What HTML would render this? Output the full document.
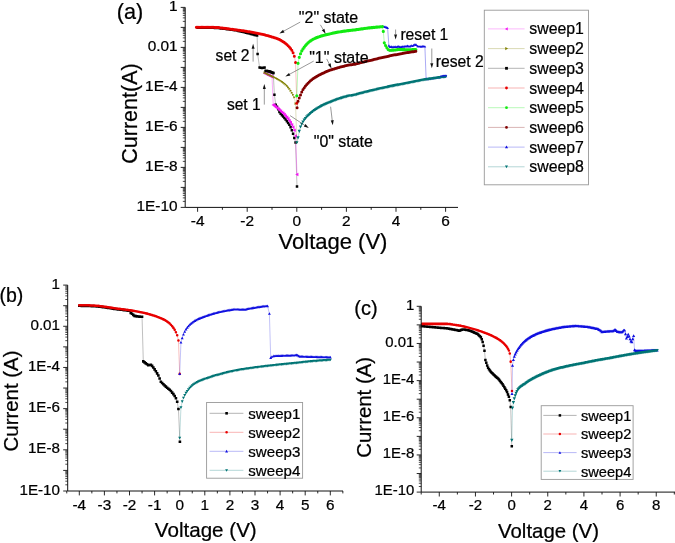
<!DOCTYPE html>
<html><head><meta charset="utf-8"><title>I-V sweeps</title>
<style>html,body{margin:0;padding:0;background:#fff}svg{display:block}text{font-family:'Liberation Sans', Arial, sans-serif;fill:#000;stroke:#000;stroke-width:0.24px}</style>
</head><body>
<svg width="675" height="543" viewBox="0 0 675 543">
<rect width="675" height="543" fill="#fff"/>
<g id="panelA">
<path d="M297 186.5L295.56 142.5L294.32 138.03L293.08 133.86L291.84 130.21L290.6 127.14L289.36 124.81L288.12 122.98L286.88 121.15L285.64 119.4L284.4 117.98L283.16 116.56L281.92 115.14L280.68 113.72L279.44 112.03L278.2 109.29L276.96 106.73L275.72 104.67L274.4 94.7L273.24 73.03L272 72.52L270.76 72.02L269.52 71.51L268.28 71.22L267.04 71.07L265.8 70.92L264.56 67.56L263.32 67.72L262.08 67.89L260.84 67.68L259.6 67.45L257.6 54L257.12 35.6L255.88 35.25L254.64 34.9L253.4 34.57L252.16 34.24L250.92 33.91L249.68 33.6L248.44 33.28L247.2 32.97L245.96 32.65L244.72 32.35L243.48 32.05L242.24 31.75L241 31.45L239.76 31.16L238.52 30.88L237.28 30.6L236.04 30.32L234.8 30.15L233.56 29.98L232.32 29.81L231.08 29.64L229.84 29.48L228.6 29.32L227.36 29.16L226.12 29L224.88 28.85L223.64 28.7L222.4 28.55L221.16 28.4L219.92 28.26L218.68 28.12L217.44 27.98L216.2 27.89L214.96 27.88L213.72 27.87L212.48 27.85L211.24 27.84L210 27.83L208.76 27.82L207.52 27.8L206.28 27.79L205.04 27.78L203.8 27.77L202.56 27.76L201.32 27.75L200.08 27.73L198.84 27.72L197.6 27.71" fill="none" stroke="#000" stroke-width="0.5" stroke-opacity="0.5"/>
<path d="M295.75 185.25h2.5v2.5h-2.5zM294.31 141.25h2.5v2.5h-2.5zM293.07 136.78h2.5v2.5h-2.5zM291.83 132.61h2.5v2.5h-2.5zM290.59 128.96h2.5v2.5h-2.5zM289.35 125.89h2.5v2.5h-2.5zM288.11 123.56h2.5v2.5h-2.5zM286.87 121.73h2.5v2.5h-2.5zM285.63 119.9h2.5v2.5h-2.5zM284.39 118.15h2.5v2.5h-2.5zM283.15 116.73h2.5v2.5h-2.5zM281.91 115.31h2.5v2.5h-2.5zM280.67 113.89h2.5v2.5h-2.5zM279.43 112.47h2.5v2.5h-2.5zM278.19 110.78h2.5v2.5h-2.5zM276.95 108.04h2.5v2.5h-2.5zM275.71 105.48h2.5v2.5h-2.5zM274.47 103.42h2.5v2.5h-2.5zM273.15 93.45h2.5v2.5h-2.5zM271.99 71.78h2.5v2.5h-2.5zM270.75 71.27h2.5v2.5h-2.5zM269.51 70.77h2.5v2.5h-2.5zM268.27 70.26h2.5v2.5h-2.5zM267.03 69.97h2.5v2.5h-2.5zM265.79 69.82h2.5v2.5h-2.5zM264.55 69.67h2.5v2.5h-2.5zM263.31 66.31h2.5v2.5h-2.5zM262.07 66.47h2.5v2.5h-2.5zM260.83 66.64h2.5v2.5h-2.5zM259.59 66.43h2.5v2.5h-2.5zM258.35 66.2h2.5v2.5h-2.5zM256.35 52.75h2.5v2.5h-2.5zM255.87 34.35h2.5v2.5h-2.5zM254.63 34h2.5v2.5h-2.5zM253.39 33.65h2.5v2.5h-2.5zM252.15 33.32h2.5v2.5h-2.5zM250.91 32.99h2.5v2.5h-2.5zM249.67 32.66h2.5v2.5h-2.5zM248.43 32.35h2.5v2.5h-2.5zM247.19 32.03h2.5v2.5h-2.5zM245.95 31.72h2.5v2.5h-2.5zM244.71 31.4h2.5v2.5h-2.5zM243.47 31.1h2.5v2.5h-2.5zM242.23 30.8h2.5v2.5h-2.5zM240.99 30.5h2.5v2.5h-2.5zM239.75 30.2h2.5v2.5h-2.5zM238.51 29.91h2.5v2.5h-2.5zM237.27 29.63h2.5v2.5h-2.5zM236.03 29.35h2.5v2.5h-2.5zM234.79 29.07h2.5v2.5h-2.5zM233.55 28.9h2.5v2.5h-2.5zM232.31 28.73h2.5v2.5h-2.5zM231.07 28.56h2.5v2.5h-2.5zM229.83 28.39h2.5v2.5h-2.5zM228.59 28.23h2.5v2.5h-2.5zM227.35 28.07h2.5v2.5h-2.5zM226.11 27.91h2.5v2.5h-2.5zM224.87 27.75h2.5v2.5h-2.5zM223.63 27.6h2.5v2.5h-2.5zM222.39 27.45h2.5v2.5h-2.5zM221.15 27.3h2.5v2.5h-2.5zM219.91 27.15h2.5v2.5h-2.5zM218.67 27.01h2.5v2.5h-2.5zM217.43 26.87h2.5v2.5h-2.5zM216.19 26.73h2.5v2.5h-2.5zM214.95 26.64h2.5v2.5h-2.5zM213.71 26.63h2.5v2.5h-2.5zM212.47 26.62h2.5v2.5h-2.5zM211.23 26.6h2.5v2.5h-2.5zM209.99 26.59h2.5v2.5h-2.5zM208.75 26.58h2.5v2.5h-2.5zM207.51 26.57h2.5v2.5h-2.5zM206.27 26.55h2.5v2.5h-2.5zM205.03 26.54h2.5v2.5h-2.5zM203.79 26.53h2.5v2.5h-2.5zM202.55 26.52h2.5v2.5h-2.5zM201.31 26.51h2.5v2.5h-2.5zM200.07 26.5h2.5v2.5h-2.5zM198.83 26.48h2.5v2.5h-2.5zM197.59 26.47h2.5v2.5h-2.5zM196.35 26.46h2.5v2.5h-2.5z" fill="#000"/>
<path d="M382.6 26.4L383.9 26.5L385.1 26.8L386.4 27.3L387.6 27.9L388.9 45.6L390.1 46.9L391.3 46.7L392.6 47.1L393.8 46.8L395.1 46.6L396.3 47L397.6 46.7L398.8 46.4L400 46.8L401.3 46.9L402.5 46.5L403.8 46.7L405 46.1L406.3 46.4L407.5 45.8L408.8 46.3L410 46.4L411.2 45.5L412.5 46L413.7 45.1L415 44.4L416.2 44.8L417.5 46.2L418.7 46.5L420 46.4L421.2 46.6L422.4 46.3L423.7 46.4L424.9 46.5L426.1 78.6L427.34 79.11L428.58 78.92L429.82 78.72L431.06 78.53L432.3 78.34L433.54 78.15L434.78 77.95L436.02 77.76L437.26 77.57L438.5 77.38L439.74 77.19L440.98 76.99L442.22 76.8L443.46 76.61L444.7 76.42L445.94 76.22" fill="none" stroke="#1010e0" stroke-width="0.6" stroke-opacity="0.6"/>
<path d="M382.6 25.06L383.94 27.48L381.26 27.48zM383.9 25.16L385.24 27.58L382.56 27.58zM385.1 25.46L386.44 27.88L383.76 27.88zM386.4 25.96L387.74 28.38L385.06 28.38zM387.6 26.56L388.94 28.98L386.26 28.98zM388.9 44.26L390.24 46.68L387.56 46.68zM390.1 45.56L391.44 47.98L388.76 47.98zM391.3 45.36L392.64 47.78L389.96 47.78zM392.6 45.76L393.94 48.18L391.26 48.18zM393.8 45.46L395.14 47.88L392.46 47.88zM395.1 45.26L396.44 47.68L393.76 47.68zM396.3 45.66L397.64 48.08L394.96 48.08zM397.6 45.36L398.94 47.78L396.26 47.78zM398.8 45.06L400.14 47.48L397.46 47.48zM400 45.46L401.34 47.88L398.66 47.88zM401.3 45.56L402.64 47.98L399.96 47.98zM402.5 45.16L403.84 47.58L401.16 47.58zM403.8 45.36L405.14 47.78L402.46 47.78zM405 44.76L406.34 47.18L403.66 47.18zM406.3 45.06L407.64 47.48L404.96 47.48zM407.5 44.46L408.84 46.88L406.16 46.88zM408.8 44.96L410.14 47.38L407.46 47.38zM410 45.06L411.34 47.48L408.66 47.48zM411.2 44.16L412.54 46.58L409.86 46.58zM412.5 44.66L413.84 47.08L411.16 47.08zM413.7 43.76L415.04 46.18L412.36 46.18zM415 43.06L416.34 45.48L413.66 45.48zM416.2 43.46L417.54 45.88L414.86 45.88zM417.5 44.86L418.84 47.28L416.16 47.28zM418.7 45.16L420.04 47.58L417.36 47.58zM420 45.06L421.34 47.48L418.66 47.48zM421.2 45.26L422.54 47.68L419.86 47.68zM422.4 44.96L423.74 47.38L421.06 47.38zM423.7 45.06L425.04 47.48L422.36 47.48zM424.9 45.16L426.24 47.58L423.56 47.58zM426.1 77.26L427.44 79.68L424.76 79.68zM427.34 77.76L428.68 80.18L426 80.18zM428.58 77.57L429.92 79.99L427.24 79.99zM429.82 77.38L431.16 79.8L428.48 79.8zM431.06 77.19L432.4 79.61L429.72 79.61zM432.3 77L433.64 79.41L430.96 79.41zM433.54 76.8L434.88 79.22L432.2 79.22zM434.78 76.61L436.12 79.03L433.44 79.03zM436.02 76.42L437.36 78.84L434.68 78.84zM437.26 76.23L438.6 78.65L435.92 78.65zM438.5 76.03L439.84 78.45L437.16 78.45zM439.74 75.84L441.08 78.26L438.4 78.26zM440.98 75.65L442.32 78.07L439.64 78.07zM442.22 75.46L443.56 77.88L440.88 77.88zM443.46 75.27L444.8 77.68L442.12 77.68zM444.7 75.07L446.04 77.49L443.36 77.49zM445.94 74.88L447.28 77.3L444.6 77.3z" fill="#1010e0"/>
<path d="M297 174.5L295.56 136L294.32 130.19L293.08 127.26L291.84 124.78L290.6 122.56L289.36 120.72L288.12 118.88L286.88 117.42L285.64 115.99L284.4 114.57L283.16 113.33L281.92 112.21L280.68 111.09L279.44 109.97L278.2 108.9L276.96 107.9L275.72 106.9L274.48 105.89L273.24 104.89L272 76.84L270.76 76.23L269.52 75.64L268.28 75.04L267.04 74.45L265.8 73.86L264.56 73.27" fill="none" stroke="#f414f4" stroke-width="0.55" stroke-opacity="0.65"/>
<path d="M295.21 174.5L298.43 172.71L298.43 176.29zM293.77 136L296.99 134.21L296.99 137.79zM292.53 130.19L295.75 128.4L295.75 131.98zM291.29 127.26L294.51 125.47L294.51 129.05zM290.05 124.78L293.27 122.99L293.27 126.57zM288.81 122.56L292.03 120.77L292.03 124.35zM287.57 120.72L290.79 118.93L290.79 122.51zM286.33 118.88L289.55 117.09L289.55 120.67zM285.09 117.42L288.31 115.62L288.31 119.21zM283.85 115.99L287.07 114.2L287.07 117.79zM282.61 114.57L285.83 112.78L285.83 116.37zM281.37 113.33L284.59 111.54L284.59 115.12zM280.13 112.21L283.35 110.42L283.35 114zM278.89 111.09L282.11 109.3L282.11 112.88zM277.65 109.97L280.87 108.18L280.87 111.76zM276.41 108.9L279.63 107.1L279.63 110.69zM275.17 107.9L278.39 106.1L278.39 109.69zM273.93 106.9L277.15 105.1L277.15 108.69zM272.69 105.89L275.91 104.1L275.91 107.69zM271.45 104.89L274.67 103.1L274.67 106.69zM270.21 76.84L273.43 75.05L273.43 78.63zM268.97 76.23L272.19 74.44L272.19 78.02zM267.73 75.64L270.95 73.84L270.95 77.43zM266.49 75.04L269.71 73.25L269.71 76.84zM265.25 74.45L268.47 72.66L268.47 76.24zM264.01 73.86L267.23 72.07L267.23 75.65zM262.77 73.27L265.99 71.48L265.99 75.06z" fill="#f414f4"/>
<path d="M264.56 72.64L265.8 73.19L267.04 73.76L268.28 74.36L269.52 74.98L270.76 75.63L272 76.16L273.24 76.72L274.48 77.32L275.72 77.94L276.96 78.61L278.2 79.31L279.44 80.02L280.68 80.78L281.92 81.6L283.16 82.49L284.4 83.47L285.64 84.56L286.88 85.78L288.12 87.16L289.36 88.74L290.6 90.6L291.84 92.67L293.08 94.73L294.32 97.32L295.56 103.6L296.8 142.5" fill="none" stroke="#808000" stroke-width="0.5" stroke-opacity="0.5"/>
<path d="M265.85 72.64L263.53 71.35L263.53 73.93zM267.09 73.19L264.77 71.9L264.77 74.48zM268.33 73.76L266.01 72.47L266.01 75.05zM269.57 74.36L267.25 73.07L267.25 75.65zM270.81 74.98L268.49 73.69L268.49 76.27zM272.05 75.63L269.73 74.34L269.73 76.91zM273.29 76.16L270.97 74.87L270.97 77.45zM274.53 76.72L272.21 75.44L272.21 78.01zM275.77 77.32L273.45 76.03L273.45 78.6zM277.01 77.94L274.69 76.66L274.69 79.23zM278.25 78.61L275.93 77.32L275.93 79.9zM279.49 79.31L277.17 78.02L277.17 80.6zM280.73 80.02L278.41 78.73L278.41 81.3zM281.97 80.78L279.65 79.49L279.65 82.06zM283.21 81.6L280.89 80.31L280.89 82.88zM284.45 82.49L282.13 81.2L282.13 83.78zM285.69 83.47L283.37 82.18L283.37 84.75zM286.93 84.56L284.61 83.27L284.61 85.85zM288.17 85.78L285.85 84.49L285.85 87.07zM289.41 87.16L287.09 85.87L287.09 88.45zM290.65 88.74L288.33 87.45L288.33 90.03zM291.89 90.6L289.57 89.31L289.57 91.89zM293.13 92.67L290.81 91.39L290.81 93.96zM294.37 94.73L292.05 93.44L292.05 96.01zM295.61 97.32L293.29 96.03L293.29 98.61zM296.85 103.6L294.53 102.31L294.53 104.89zM298.09 142.5L295.77 141.21L295.77 143.79z" fill="#808000"/>
<path d="M271.99 71.78h2.5v2.5h-2.5zM270.75 71.27h2.5v2.5h-2.5zM269.51 70.77h2.5v2.5h-2.5zM268.27 70.26h2.5v2.5h-2.5zM267.03 69.97h2.5v2.5h-2.5zM265.79 69.82h2.5v2.5h-2.5zM264.55 69.67h2.5v2.5h-2.5z" fill="#000"/>
<path d="M196.36 27.2L197.6 27.21L198.84 27.22L200.08 27.23L201.32 27.25L202.56 27.26L203.8 27.27L205.04 27.28L206.28 27.29L207.52 27.3L208.76 27.32L210 27.33L211.24 27.34L212.48 27.35L213.72 27.37L214.96 27.38L216.2 27.39L217.44 27.48L218.68 27.62L219.92 27.76L221.16 27.9L222.4 28.05L223.64 28.2L224.88 28.35L226.12 28.5L227.36 28.66L228.6 28.82L229.84 28.98L231.08 29.14L232.32 29.31L233.56 29.48L234.8 29.65L236.04 29.81L237.28 29.98L238.52 30.15L239.76 30.32L241 30.5L242.24 30.68L243.48 30.87L244.72 31.06L245.96 31.25L247.2 31.45L248.44 31.66L249.68 31.86L250.92 32.06L252.16 32.28L253.4 32.49L254.64 32.72L255.88 32.95L257.12 33.18L258.36 33.43L259.6 33.68L260.84 33.94L262.08 34.22L263.32 34.51L264.56 34.82L265.8 35.13L267.04 35.46L268.28 35.8L269.52 36.16L270.76 36.51L272 36.88L273.24 37.26L274.48 37.66L275.72 38.08L276.96 38.54L278.2 39.01L279.44 39.57L280.68 40.23L281.92 40.95L283.16 41.72L284.4 42.57L285.64 43.51L286.88 44.51L288.12 45.64L289.36 46.93L290.6 48.45L291.84 50.17L293.08 52.79L294.32 56.2L295.56 62.5L296.8 103.3" fill="none" stroke="#e80000" stroke-width="0.5" stroke-opacity="0.5"/>
<path d="M194.86 27.2a1.5 1.5 0 1 0 3 0a1.5 1.5 0 1 0 -3 0zM196.1 27.21a1.5 1.5 0 1 0 3 0a1.5 1.5 0 1 0 -3 0zM197.34 27.22a1.5 1.5 0 1 0 3 0a1.5 1.5 0 1 0 -3 0zM198.58 27.23a1.5 1.5 0 1 0 3 0a1.5 1.5 0 1 0 -3 0zM199.82 27.25a1.5 1.5 0 1 0 3 0a1.5 1.5 0 1 0 -3 0zM201.06 27.26a1.5 1.5 0 1 0 3 0a1.5 1.5 0 1 0 -3 0zM202.3 27.27a1.5 1.5 0 1 0 3 0a1.5 1.5 0 1 0 -3 0zM203.54 27.28a1.5 1.5 0 1 0 3 0a1.5 1.5 0 1 0 -3 0zM204.78 27.29a1.5 1.5 0 1 0 3 0a1.5 1.5 0 1 0 -3 0zM206.02 27.3a1.5 1.5 0 1 0 3 0a1.5 1.5 0 1 0 -3 0zM207.26 27.32a1.5 1.5 0 1 0 3 0a1.5 1.5 0 1 0 -3 0zM208.5 27.33a1.5 1.5 0 1 0 3 0a1.5 1.5 0 1 0 -3 0zM209.74 27.34a1.5 1.5 0 1 0 3 0a1.5 1.5 0 1 0 -3 0zM210.98 27.35a1.5 1.5 0 1 0 3 0a1.5 1.5 0 1 0 -3 0zM212.22 27.37a1.5 1.5 0 1 0 3 0a1.5 1.5 0 1 0 -3 0zM213.46 27.38a1.5 1.5 0 1 0 3 0a1.5 1.5 0 1 0 -3 0zM214.7 27.39a1.5 1.5 0 1 0 3 0a1.5 1.5 0 1 0 -3 0zM215.94 27.48a1.5 1.5 0 1 0 3 0a1.5 1.5 0 1 0 -3 0zM217.18 27.62a1.5 1.5 0 1 0 3 0a1.5 1.5 0 1 0 -3 0zM218.42 27.76a1.5 1.5 0 1 0 3 0a1.5 1.5 0 1 0 -3 0zM219.66 27.9a1.5 1.5 0 1 0 3 0a1.5 1.5 0 1 0 -3 0zM220.9 28.05a1.5 1.5 0 1 0 3 0a1.5 1.5 0 1 0 -3 0zM222.14 28.2a1.5 1.5 0 1 0 3 0a1.5 1.5 0 1 0 -3 0zM223.38 28.35a1.5 1.5 0 1 0 3 0a1.5 1.5 0 1 0 -3 0zM224.62 28.5a1.5 1.5 0 1 0 3 0a1.5 1.5 0 1 0 -3 0zM225.86 28.66a1.5 1.5 0 1 0 3 0a1.5 1.5 0 1 0 -3 0zM227.1 28.82a1.5 1.5 0 1 0 3 0a1.5 1.5 0 1 0 -3 0zM228.34 28.98a1.5 1.5 0 1 0 3 0a1.5 1.5 0 1 0 -3 0zM229.58 29.14a1.5 1.5 0 1 0 3 0a1.5 1.5 0 1 0 -3 0zM230.82 29.31a1.5 1.5 0 1 0 3 0a1.5 1.5 0 1 0 -3 0zM232.06 29.48a1.5 1.5 0 1 0 3 0a1.5 1.5 0 1 0 -3 0zM233.3 29.65a1.5 1.5 0 1 0 3 0a1.5 1.5 0 1 0 -3 0zM234.54 29.81a1.5 1.5 0 1 0 3 0a1.5 1.5 0 1 0 -3 0zM235.78 29.98a1.5 1.5 0 1 0 3 0a1.5 1.5 0 1 0 -3 0zM237.02 30.15a1.5 1.5 0 1 0 3 0a1.5 1.5 0 1 0 -3 0zM238.26 30.32a1.5 1.5 0 1 0 3 0a1.5 1.5 0 1 0 -3 0zM239.5 30.5a1.5 1.5 0 1 0 3 0a1.5 1.5 0 1 0 -3 0zM240.74 30.68a1.5 1.5 0 1 0 3 0a1.5 1.5 0 1 0 -3 0zM241.98 30.87a1.5 1.5 0 1 0 3 0a1.5 1.5 0 1 0 -3 0zM243.22 31.06a1.5 1.5 0 1 0 3 0a1.5 1.5 0 1 0 -3 0zM244.46 31.25a1.5 1.5 0 1 0 3 0a1.5 1.5 0 1 0 -3 0zM245.7 31.45a1.5 1.5 0 1 0 3 0a1.5 1.5 0 1 0 -3 0zM246.94 31.66a1.5 1.5 0 1 0 3 0a1.5 1.5 0 1 0 -3 0zM248.18 31.86a1.5 1.5 0 1 0 3 0a1.5 1.5 0 1 0 -3 0zM249.42 32.06a1.5 1.5 0 1 0 3 0a1.5 1.5 0 1 0 -3 0zM250.66 32.28a1.5 1.5 0 1 0 3 0a1.5 1.5 0 1 0 -3 0zM251.9 32.49a1.5 1.5 0 1 0 3 0a1.5 1.5 0 1 0 -3 0zM253.14 32.72a1.5 1.5 0 1 0 3 0a1.5 1.5 0 1 0 -3 0zM254.38 32.95a1.5 1.5 0 1 0 3 0a1.5 1.5 0 1 0 -3 0zM255.62 33.18a1.5 1.5 0 1 0 3 0a1.5 1.5 0 1 0 -3 0zM256.86 33.43a1.5 1.5 0 1 0 3 0a1.5 1.5 0 1 0 -3 0zM258.1 33.68a1.5 1.5 0 1 0 3 0a1.5 1.5 0 1 0 -3 0zM259.34 33.94a1.5 1.5 0 1 0 3 0a1.5 1.5 0 1 0 -3 0zM260.58 34.22a1.5 1.5 0 1 0 3 0a1.5 1.5 0 1 0 -3 0zM261.82 34.51a1.5 1.5 0 1 0 3 0a1.5 1.5 0 1 0 -3 0zM263.06 34.82a1.5 1.5 0 1 0 3 0a1.5 1.5 0 1 0 -3 0zM264.3 35.13a1.5 1.5 0 1 0 3 0a1.5 1.5 0 1 0 -3 0zM265.54 35.46a1.5 1.5 0 1 0 3 0a1.5 1.5 0 1 0 -3 0zM266.78 35.8a1.5 1.5 0 1 0 3 0a1.5 1.5 0 1 0 -3 0zM268.02 36.16a1.5 1.5 0 1 0 3 0a1.5 1.5 0 1 0 -3 0zM269.26 36.51a1.5 1.5 0 1 0 3 0a1.5 1.5 0 1 0 -3 0zM270.5 36.88a1.5 1.5 0 1 0 3 0a1.5 1.5 0 1 0 -3 0zM271.74 37.26a1.5 1.5 0 1 0 3 0a1.5 1.5 0 1 0 -3 0zM272.98 37.66a1.5 1.5 0 1 0 3 0a1.5 1.5 0 1 0 -3 0zM274.22 38.08a1.5 1.5 0 1 0 3 0a1.5 1.5 0 1 0 -3 0zM275.46 38.54a1.5 1.5 0 1 0 3 0a1.5 1.5 0 1 0 -3 0zM276.7 39.01a1.5 1.5 0 1 0 3 0a1.5 1.5 0 1 0 -3 0zM277.94 39.57a1.5 1.5 0 1 0 3 0a1.5 1.5 0 1 0 -3 0zM279.18 40.23a1.5 1.5 0 1 0 3 0a1.5 1.5 0 1 0 -3 0zM280.42 40.95a1.5 1.5 0 1 0 3 0a1.5 1.5 0 1 0 -3 0zM281.66 41.72a1.5 1.5 0 1 0 3 0a1.5 1.5 0 1 0 -3 0zM282.9 42.57a1.5 1.5 0 1 0 3 0a1.5 1.5 0 1 0 -3 0zM284.14 43.51a1.5 1.5 0 1 0 3 0a1.5 1.5 0 1 0 -3 0zM285.38 44.51a1.5 1.5 0 1 0 3 0a1.5 1.5 0 1 0 -3 0zM286.62 45.64a1.5 1.5 0 1 0 3 0a1.5 1.5 0 1 0 -3 0zM287.86 46.93a1.5 1.5 0 1 0 3 0a1.5 1.5 0 1 0 -3 0zM289.1 48.45a1.5 1.5 0 1 0 3 0a1.5 1.5 0 1 0 -3 0zM290.34 50.17a1.5 1.5 0 1 0 3 0a1.5 1.5 0 1 0 -3 0zM291.58 52.79a1.5 1.5 0 1 0 3 0a1.5 1.5 0 1 0 -3 0zM292.82 56.2a1.5 1.5 0 1 0 3 0a1.5 1.5 0 1 0 -3 0zM294.06 62.5a1.5 1.5 0 1 0 3 0a1.5 1.5 0 1 0 -3 0zM295.3 103.3a1.5 1.5 0 1 0 3 0a1.5 1.5 0 1 0 -3 0z" fill="#e80000"/>
<path d="M296.8 95.8L298.04 63.3L299.28 57.3L300.52 53.75L301.76 50.88L303 48.89L304.24 47.21L305.48 45.58L306.72 44.16L307.96 42.92L309.2 41.87L310.44 40.95L311.68 40.1L312.92 39.34L314.16 38.75L315.4 38.21L316.64 37.7L317.88 37.22L319.12 36.77L320.36 36.34L321.6 35.93L322.84 35.58L324.08 35.24L325.32 34.92L326.56 34.62L327.8 34.32L329.04 34.04L330.28 33.77L331.52 33.49L332.76 33.22L334 32.95L335.24 32.7L336.48 32.45L337.72 32.21L338.96 31.98L340.2 31.77L341.44 31.58L342.68 31.39L343.92 31.21L345.16 31.03L346.4 30.86L347.64 30.69L348.88 30.54L350.12 30.4L351.36 30.27L352.6 30.14L353.84 30.02L355.08 29.89L356.32 29.69L357.56 29.5L358.8 29.32L360.04 29.13L361.28 28.95L362.52 28.78L363.76 28.61L365 28.44L366.24 28.27L367.48 28.11L368.72 27.96L369.96 27.83L371.2 27.7L372.44 27.57L373.68 27.45L374.92 27.33L376.16 27.21L377.4 27.09L378.64 26.98L379.88 26.86L381.12 26.75L382.36 26.7L383.3 31.4L384.3 42.8L385.6 45.6L386.9 47.8L388.2 49.6L389.8 50.37L391.04 50.3L392.28 50.22L393.52 50.14L394.76 50.01L396 49.85L397.24 49.69L398.48 49.52L399.72 49.42L400.96 49.5L402.2 49.58L403.44 49.66L404.68 49.71L405.92 49.73L407.16 49.75L408.4 49.77L409.64 49.79L410.88 49.76L412.12 49.71L413.36 49.65L414.6 49.59L415.84 49.54" fill="none" stroke="#12ea12" stroke-width="0.6" stroke-opacity="0.5"/>
<path d="M295.2 95.8a1.6 1.6 0 1 0 3.2 0a1.6 1.6 0 1 0 -3.2 0zM296.44 63.3a1.6 1.6 0 1 0 3.2 0a1.6 1.6 0 1 0 -3.2 0zM297.68 57.3a1.6 1.6 0 1 0 3.2 0a1.6 1.6 0 1 0 -3.2 0zM298.92 53.75a1.6 1.6 0 1 0 3.2 0a1.6 1.6 0 1 0 -3.2 0zM300.16 50.88a1.6 1.6 0 1 0 3.2 0a1.6 1.6 0 1 0 -3.2 0zM301.4 48.89a1.6 1.6 0 1 0 3.2 0a1.6 1.6 0 1 0 -3.2 0zM302.64 47.21a1.6 1.6 0 1 0 3.2 0a1.6 1.6 0 1 0 -3.2 0zM303.88 45.58a1.6 1.6 0 1 0 3.2 0a1.6 1.6 0 1 0 -3.2 0zM305.12 44.16a1.6 1.6 0 1 0 3.2 0a1.6 1.6 0 1 0 -3.2 0zM306.36 42.92a1.6 1.6 0 1 0 3.2 0a1.6 1.6 0 1 0 -3.2 0zM307.6 41.87a1.6 1.6 0 1 0 3.2 0a1.6 1.6 0 1 0 -3.2 0zM308.84 40.95a1.6 1.6 0 1 0 3.2 0a1.6 1.6 0 1 0 -3.2 0zM310.08 40.1a1.6 1.6 0 1 0 3.2 0a1.6 1.6 0 1 0 -3.2 0zM311.32 39.34a1.6 1.6 0 1 0 3.2 0a1.6 1.6 0 1 0 -3.2 0zM312.56 38.75a1.6 1.6 0 1 0 3.2 0a1.6 1.6 0 1 0 -3.2 0zM313.8 38.21a1.6 1.6 0 1 0 3.2 0a1.6 1.6 0 1 0 -3.2 0zM315.04 37.7a1.6 1.6 0 1 0 3.2 0a1.6 1.6 0 1 0 -3.2 0zM316.28 37.22a1.6 1.6 0 1 0 3.2 0a1.6 1.6 0 1 0 -3.2 0zM317.52 36.77a1.6 1.6 0 1 0 3.2 0a1.6 1.6 0 1 0 -3.2 0zM318.76 36.34a1.6 1.6 0 1 0 3.2 0a1.6 1.6 0 1 0 -3.2 0zM320 35.93a1.6 1.6 0 1 0 3.2 0a1.6 1.6 0 1 0 -3.2 0zM321.24 35.58a1.6 1.6 0 1 0 3.2 0a1.6 1.6 0 1 0 -3.2 0zM322.48 35.24a1.6 1.6 0 1 0 3.2 0a1.6 1.6 0 1 0 -3.2 0zM323.72 34.92a1.6 1.6 0 1 0 3.2 0a1.6 1.6 0 1 0 -3.2 0zM324.96 34.62a1.6 1.6 0 1 0 3.2 0a1.6 1.6 0 1 0 -3.2 0zM326.2 34.32a1.6 1.6 0 1 0 3.2 0a1.6 1.6 0 1 0 -3.2 0zM327.44 34.04a1.6 1.6 0 1 0 3.2 0a1.6 1.6 0 1 0 -3.2 0zM328.68 33.77a1.6 1.6 0 1 0 3.2 0a1.6 1.6 0 1 0 -3.2 0zM329.92 33.49a1.6 1.6 0 1 0 3.2 0a1.6 1.6 0 1 0 -3.2 0zM331.16 33.22a1.6 1.6 0 1 0 3.2 0a1.6 1.6 0 1 0 -3.2 0zM332.4 32.95a1.6 1.6 0 1 0 3.2 0a1.6 1.6 0 1 0 -3.2 0zM333.64 32.7a1.6 1.6 0 1 0 3.2 0a1.6 1.6 0 1 0 -3.2 0zM334.88 32.45a1.6 1.6 0 1 0 3.2 0a1.6 1.6 0 1 0 -3.2 0zM336.12 32.21a1.6 1.6 0 1 0 3.2 0a1.6 1.6 0 1 0 -3.2 0zM337.36 31.98a1.6 1.6 0 1 0 3.2 0a1.6 1.6 0 1 0 -3.2 0zM338.6 31.77a1.6 1.6 0 1 0 3.2 0a1.6 1.6 0 1 0 -3.2 0zM339.84 31.58a1.6 1.6 0 1 0 3.2 0a1.6 1.6 0 1 0 -3.2 0zM341.08 31.39a1.6 1.6 0 1 0 3.2 0a1.6 1.6 0 1 0 -3.2 0zM342.32 31.21a1.6 1.6 0 1 0 3.2 0a1.6 1.6 0 1 0 -3.2 0zM343.56 31.03a1.6 1.6 0 1 0 3.2 0a1.6 1.6 0 1 0 -3.2 0zM344.8 30.86a1.6 1.6 0 1 0 3.2 0a1.6 1.6 0 1 0 -3.2 0zM346.04 30.69a1.6 1.6 0 1 0 3.2 0a1.6 1.6 0 1 0 -3.2 0zM347.28 30.54a1.6 1.6 0 1 0 3.2 0a1.6 1.6 0 1 0 -3.2 0zM348.52 30.4a1.6 1.6 0 1 0 3.2 0a1.6 1.6 0 1 0 -3.2 0zM349.76 30.27a1.6 1.6 0 1 0 3.2 0a1.6 1.6 0 1 0 -3.2 0zM351 30.14a1.6 1.6 0 1 0 3.2 0a1.6 1.6 0 1 0 -3.2 0zM352.24 30.02a1.6 1.6 0 1 0 3.2 0a1.6 1.6 0 1 0 -3.2 0zM353.48 29.89a1.6 1.6 0 1 0 3.2 0a1.6 1.6 0 1 0 -3.2 0zM354.72 29.69a1.6 1.6 0 1 0 3.2 0a1.6 1.6 0 1 0 -3.2 0zM355.96 29.5a1.6 1.6 0 1 0 3.2 0a1.6 1.6 0 1 0 -3.2 0zM357.2 29.32a1.6 1.6 0 1 0 3.2 0a1.6 1.6 0 1 0 -3.2 0zM358.44 29.13a1.6 1.6 0 1 0 3.2 0a1.6 1.6 0 1 0 -3.2 0zM359.68 28.95a1.6 1.6 0 1 0 3.2 0a1.6 1.6 0 1 0 -3.2 0zM360.92 28.78a1.6 1.6 0 1 0 3.2 0a1.6 1.6 0 1 0 -3.2 0zM362.16 28.61a1.6 1.6 0 1 0 3.2 0a1.6 1.6 0 1 0 -3.2 0zM363.4 28.44a1.6 1.6 0 1 0 3.2 0a1.6 1.6 0 1 0 -3.2 0zM364.64 28.27a1.6 1.6 0 1 0 3.2 0a1.6 1.6 0 1 0 -3.2 0zM365.88 28.11a1.6 1.6 0 1 0 3.2 0a1.6 1.6 0 1 0 -3.2 0zM367.12 27.96a1.6 1.6 0 1 0 3.2 0a1.6 1.6 0 1 0 -3.2 0zM368.36 27.83a1.6 1.6 0 1 0 3.2 0a1.6 1.6 0 1 0 -3.2 0zM369.6 27.7a1.6 1.6 0 1 0 3.2 0a1.6 1.6 0 1 0 -3.2 0zM370.84 27.57a1.6 1.6 0 1 0 3.2 0a1.6 1.6 0 1 0 -3.2 0zM372.08 27.45a1.6 1.6 0 1 0 3.2 0a1.6 1.6 0 1 0 -3.2 0zM373.32 27.33a1.6 1.6 0 1 0 3.2 0a1.6 1.6 0 1 0 -3.2 0zM374.56 27.21a1.6 1.6 0 1 0 3.2 0a1.6 1.6 0 1 0 -3.2 0zM375.8 27.09a1.6 1.6 0 1 0 3.2 0a1.6 1.6 0 1 0 -3.2 0zM377.04 26.98a1.6 1.6 0 1 0 3.2 0a1.6 1.6 0 1 0 -3.2 0zM378.28 26.86a1.6 1.6 0 1 0 3.2 0a1.6 1.6 0 1 0 -3.2 0zM379.52 26.75a1.6 1.6 0 1 0 3.2 0a1.6 1.6 0 1 0 -3.2 0zM380.76 26.7a1.6 1.6 0 1 0 3.2 0a1.6 1.6 0 1 0 -3.2 0zM381.7 31.4a1.6 1.6 0 1 0 3.2 0a1.6 1.6 0 1 0 -3.2 0zM382.7 42.8a1.6 1.6 0 1 0 3.2 0a1.6 1.6 0 1 0 -3.2 0zM384 45.6a1.6 1.6 0 1 0 3.2 0a1.6 1.6 0 1 0 -3.2 0zM385.3 47.8a1.6 1.6 0 1 0 3.2 0a1.6 1.6 0 1 0 -3.2 0zM386.6 49.6a1.6 1.6 0 1 0 3.2 0a1.6 1.6 0 1 0 -3.2 0zM388.2 50.37a1.6 1.6 0 1 0 3.2 0a1.6 1.6 0 1 0 -3.2 0zM389.44 50.3a1.6 1.6 0 1 0 3.2 0a1.6 1.6 0 1 0 -3.2 0zM390.68 50.22a1.6 1.6 0 1 0 3.2 0a1.6 1.6 0 1 0 -3.2 0zM391.92 50.14a1.6 1.6 0 1 0 3.2 0a1.6 1.6 0 1 0 -3.2 0zM393.16 50.01a1.6 1.6 0 1 0 3.2 0a1.6 1.6 0 1 0 -3.2 0zM394.4 49.85a1.6 1.6 0 1 0 3.2 0a1.6 1.6 0 1 0 -3.2 0zM395.64 49.69a1.6 1.6 0 1 0 3.2 0a1.6 1.6 0 1 0 -3.2 0zM396.88 49.52a1.6 1.6 0 1 0 3.2 0a1.6 1.6 0 1 0 -3.2 0zM398.12 49.42a1.6 1.6 0 1 0 3.2 0a1.6 1.6 0 1 0 -3.2 0zM399.36 49.5a1.6 1.6 0 1 0 3.2 0a1.6 1.6 0 1 0 -3.2 0zM400.6 49.58a1.6 1.6 0 1 0 3.2 0a1.6 1.6 0 1 0 -3.2 0zM401.84 49.66a1.6 1.6 0 1 0 3.2 0a1.6 1.6 0 1 0 -3.2 0zM403.08 49.71a1.6 1.6 0 1 0 3.2 0a1.6 1.6 0 1 0 -3.2 0zM404.32 49.73a1.6 1.6 0 1 0 3.2 0a1.6 1.6 0 1 0 -3.2 0zM405.56 49.75a1.6 1.6 0 1 0 3.2 0a1.6 1.6 0 1 0 -3.2 0zM406.8 49.77a1.6 1.6 0 1 0 3.2 0a1.6 1.6 0 1 0 -3.2 0zM408.04 49.79a1.6 1.6 0 1 0 3.2 0a1.6 1.6 0 1 0 -3.2 0zM409.28 49.76a1.6 1.6 0 1 0 3.2 0a1.6 1.6 0 1 0 -3.2 0zM410.52 49.71a1.6 1.6 0 1 0 3.2 0a1.6 1.6 0 1 0 -3.2 0zM411.76 49.65a1.6 1.6 0 1 0 3.2 0a1.6 1.6 0 1 0 -3.2 0zM413 49.59a1.6 1.6 0 1 0 3.2 0a1.6 1.6 0 1 0 -3.2 0zM414.24 49.54a1.6 1.6 0 1 0 3.2 0a1.6 1.6 0 1 0 -3.2 0z" fill="#12ea12"/>
<path d="M297.1 107.7L298.04 101.3L299.28 98L300.52 94.94L301.76 91.94L303 89.61L304.24 87.69L305.48 85.99L306.72 84.52L307.96 83.23L309.2 81.99L310.44 80.83L311.68 79.78L312.92 78.81L314.16 77.96L315.4 77.16L316.64 76.42L317.88 75.72L319.12 75.06L320.36 74.44L321.6 73.85L322.84 73.24L324.08 72.66L325.32 72.11L326.56 71.58L327.8 71.08L329.04 70.59L330.28 70.12L331.52 69.69L332.76 69.28L334 68.88L335.24 68.5L336.48 68.13L337.72 67.77L338.96 67.42L340.2 67.08L341.44 66.76L342.68 66.44L343.92 66.13L345.16 65.83L346.4 65.54L347.64 65.25L348.88 65.02L350.12 64.84L351.36 64.68L352.6 64.51L353.84 64.35L355.08 64.18L356.32 63.83L357.56 63.49L358.8 63.16L360.04 62.83L361.28 62.51L362.52 62.2L363.76 61.89L365 61.59L366.24 61.29L367.48 61L368.72 60.71L369.96 60.43L371.2 60.15L372.44 59.88L373.68 59.58L374.92 59.26L376.16 58.96L377.4 58.66L378.64 58.36L379.88 58.06L381.12 57.78L382.36 57.49L383.6 57.21L384.84 56.93L386.08 56.66L387.32 56.39L388.56 56.13L389.8 55.87L391.04 55.61L392.28 55.36L393.52 55.11L394.76 54.87L396 54.63L397.24 54.39L398.48 54.16L399.72 53.93L400.96 53.7L402.2 53.47L403.44 53.25L404.68 53.03L405.92 52.81L407.16 52.6L408.4 52.39L409.64 52.21L410.88 52.03L412.12 51.86L413.36 51.68L414.6 51.51L415.84 51.34" fill="none" stroke="#800000" stroke-width="0.5" stroke-opacity="0.5"/>
<path d="M295.6 107.7a1.5 1.5 0 1 0 3 0a1.5 1.5 0 1 0 -3 0zM296.54 101.3a1.5 1.5 0 1 0 3 0a1.5 1.5 0 1 0 -3 0zM297.78 98a1.5 1.5 0 1 0 3 0a1.5 1.5 0 1 0 -3 0zM299.02 94.94a1.5 1.5 0 1 0 3 0a1.5 1.5 0 1 0 -3 0zM300.26 91.94a1.5 1.5 0 1 0 3 0a1.5 1.5 0 1 0 -3 0zM301.5 89.61a1.5 1.5 0 1 0 3 0a1.5 1.5 0 1 0 -3 0zM302.74 87.69a1.5 1.5 0 1 0 3 0a1.5 1.5 0 1 0 -3 0zM303.98 85.99a1.5 1.5 0 1 0 3 0a1.5 1.5 0 1 0 -3 0zM305.22 84.52a1.5 1.5 0 1 0 3 0a1.5 1.5 0 1 0 -3 0zM306.46 83.23a1.5 1.5 0 1 0 3 0a1.5 1.5 0 1 0 -3 0zM307.7 81.99a1.5 1.5 0 1 0 3 0a1.5 1.5 0 1 0 -3 0zM308.94 80.83a1.5 1.5 0 1 0 3 0a1.5 1.5 0 1 0 -3 0zM310.18 79.78a1.5 1.5 0 1 0 3 0a1.5 1.5 0 1 0 -3 0zM311.42 78.81a1.5 1.5 0 1 0 3 0a1.5 1.5 0 1 0 -3 0zM312.66 77.96a1.5 1.5 0 1 0 3 0a1.5 1.5 0 1 0 -3 0zM313.9 77.16a1.5 1.5 0 1 0 3 0a1.5 1.5 0 1 0 -3 0zM315.14 76.42a1.5 1.5 0 1 0 3 0a1.5 1.5 0 1 0 -3 0zM316.38 75.72a1.5 1.5 0 1 0 3 0a1.5 1.5 0 1 0 -3 0zM317.62 75.06a1.5 1.5 0 1 0 3 0a1.5 1.5 0 1 0 -3 0zM318.86 74.44a1.5 1.5 0 1 0 3 0a1.5 1.5 0 1 0 -3 0zM320.1 73.85a1.5 1.5 0 1 0 3 0a1.5 1.5 0 1 0 -3 0zM321.34 73.24a1.5 1.5 0 1 0 3 0a1.5 1.5 0 1 0 -3 0zM322.58 72.66a1.5 1.5 0 1 0 3 0a1.5 1.5 0 1 0 -3 0zM323.82 72.11a1.5 1.5 0 1 0 3 0a1.5 1.5 0 1 0 -3 0zM325.06 71.58a1.5 1.5 0 1 0 3 0a1.5 1.5 0 1 0 -3 0zM326.3 71.08a1.5 1.5 0 1 0 3 0a1.5 1.5 0 1 0 -3 0zM327.54 70.59a1.5 1.5 0 1 0 3 0a1.5 1.5 0 1 0 -3 0zM328.78 70.12a1.5 1.5 0 1 0 3 0a1.5 1.5 0 1 0 -3 0zM330.02 69.69a1.5 1.5 0 1 0 3 0a1.5 1.5 0 1 0 -3 0zM331.26 69.28a1.5 1.5 0 1 0 3 0a1.5 1.5 0 1 0 -3 0zM332.5 68.88a1.5 1.5 0 1 0 3 0a1.5 1.5 0 1 0 -3 0zM333.74 68.5a1.5 1.5 0 1 0 3 0a1.5 1.5 0 1 0 -3 0zM334.98 68.13a1.5 1.5 0 1 0 3 0a1.5 1.5 0 1 0 -3 0zM336.22 67.77a1.5 1.5 0 1 0 3 0a1.5 1.5 0 1 0 -3 0zM337.46 67.42a1.5 1.5 0 1 0 3 0a1.5 1.5 0 1 0 -3 0zM338.7 67.08a1.5 1.5 0 1 0 3 0a1.5 1.5 0 1 0 -3 0zM339.94 66.76a1.5 1.5 0 1 0 3 0a1.5 1.5 0 1 0 -3 0zM341.18 66.44a1.5 1.5 0 1 0 3 0a1.5 1.5 0 1 0 -3 0zM342.42 66.13a1.5 1.5 0 1 0 3 0a1.5 1.5 0 1 0 -3 0zM343.66 65.83a1.5 1.5 0 1 0 3 0a1.5 1.5 0 1 0 -3 0zM344.9 65.54a1.5 1.5 0 1 0 3 0a1.5 1.5 0 1 0 -3 0zM346.14 65.25a1.5 1.5 0 1 0 3 0a1.5 1.5 0 1 0 -3 0zM347.38 65.02a1.5 1.5 0 1 0 3 0a1.5 1.5 0 1 0 -3 0zM348.62 64.84a1.5 1.5 0 1 0 3 0a1.5 1.5 0 1 0 -3 0zM349.86 64.68a1.5 1.5 0 1 0 3 0a1.5 1.5 0 1 0 -3 0zM351.1 64.51a1.5 1.5 0 1 0 3 0a1.5 1.5 0 1 0 -3 0zM352.34 64.35a1.5 1.5 0 1 0 3 0a1.5 1.5 0 1 0 -3 0zM353.58 64.18a1.5 1.5 0 1 0 3 0a1.5 1.5 0 1 0 -3 0zM354.82 63.83a1.5 1.5 0 1 0 3 0a1.5 1.5 0 1 0 -3 0zM356.06 63.49a1.5 1.5 0 1 0 3 0a1.5 1.5 0 1 0 -3 0zM357.3 63.16a1.5 1.5 0 1 0 3 0a1.5 1.5 0 1 0 -3 0zM358.54 62.83a1.5 1.5 0 1 0 3 0a1.5 1.5 0 1 0 -3 0zM359.78 62.51a1.5 1.5 0 1 0 3 0a1.5 1.5 0 1 0 -3 0zM361.02 62.2a1.5 1.5 0 1 0 3 0a1.5 1.5 0 1 0 -3 0zM362.26 61.89a1.5 1.5 0 1 0 3 0a1.5 1.5 0 1 0 -3 0zM363.5 61.59a1.5 1.5 0 1 0 3 0a1.5 1.5 0 1 0 -3 0zM364.74 61.29a1.5 1.5 0 1 0 3 0a1.5 1.5 0 1 0 -3 0zM365.98 61a1.5 1.5 0 1 0 3 0a1.5 1.5 0 1 0 -3 0zM367.22 60.71a1.5 1.5 0 1 0 3 0a1.5 1.5 0 1 0 -3 0zM368.46 60.43a1.5 1.5 0 1 0 3 0a1.5 1.5 0 1 0 -3 0zM369.7 60.15a1.5 1.5 0 1 0 3 0a1.5 1.5 0 1 0 -3 0zM370.94 59.88a1.5 1.5 0 1 0 3 0a1.5 1.5 0 1 0 -3 0zM372.18 59.58a1.5 1.5 0 1 0 3 0a1.5 1.5 0 1 0 -3 0zM373.42 59.26a1.5 1.5 0 1 0 3 0a1.5 1.5 0 1 0 -3 0zM374.66 58.96a1.5 1.5 0 1 0 3 0a1.5 1.5 0 1 0 -3 0zM375.9 58.66a1.5 1.5 0 1 0 3 0a1.5 1.5 0 1 0 -3 0zM377.14 58.36a1.5 1.5 0 1 0 3 0a1.5 1.5 0 1 0 -3 0zM378.38 58.06a1.5 1.5 0 1 0 3 0a1.5 1.5 0 1 0 -3 0zM379.62 57.78a1.5 1.5 0 1 0 3 0a1.5 1.5 0 1 0 -3 0zM380.86 57.49a1.5 1.5 0 1 0 3 0a1.5 1.5 0 1 0 -3 0zM382.1 57.21a1.5 1.5 0 1 0 3 0a1.5 1.5 0 1 0 -3 0zM383.34 56.93a1.5 1.5 0 1 0 3 0a1.5 1.5 0 1 0 -3 0zM384.58 56.66a1.5 1.5 0 1 0 3 0a1.5 1.5 0 1 0 -3 0zM385.82 56.39a1.5 1.5 0 1 0 3 0a1.5 1.5 0 1 0 -3 0zM387.06 56.13a1.5 1.5 0 1 0 3 0a1.5 1.5 0 1 0 -3 0zM388.3 55.87a1.5 1.5 0 1 0 3 0a1.5 1.5 0 1 0 -3 0zM389.54 55.61a1.5 1.5 0 1 0 3 0a1.5 1.5 0 1 0 -3 0zM390.78 55.36a1.5 1.5 0 1 0 3 0a1.5 1.5 0 1 0 -3 0zM392.02 55.11a1.5 1.5 0 1 0 3 0a1.5 1.5 0 1 0 -3 0zM393.26 54.87a1.5 1.5 0 1 0 3 0a1.5 1.5 0 1 0 -3 0zM394.5 54.63a1.5 1.5 0 1 0 3 0a1.5 1.5 0 1 0 -3 0zM395.74 54.39a1.5 1.5 0 1 0 3 0a1.5 1.5 0 1 0 -3 0zM396.98 54.16a1.5 1.5 0 1 0 3 0a1.5 1.5 0 1 0 -3 0zM398.22 53.93a1.5 1.5 0 1 0 3 0a1.5 1.5 0 1 0 -3 0zM399.46 53.7a1.5 1.5 0 1 0 3 0a1.5 1.5 0 1 0 -3 0zM400.7 53.47a1.5 1.5 0 1 0 3 0a1.5 1.5 0 1 0 -3 0zM401.94 53.25a1.5 1.5 0 1 0 3 0a1.5 1.5 0 1 0 -3 0zM403.18 53.03a1.5 1.5 0 1 0 3 0a1.5 1.5 0 1 0 -3 0zM404.42 52.81a1.5 1.5 0 1 0 3 0a1.5 1.5 0 1 0 -3 0zM405.66 52.6a1.5 1.5 0 1 0 3 0a1.5 1.5 0 1 0 -3 0zM406.9 52.39a1.5 1.5 0 1 0 3 0a1.5 1.5 0 1 0 -3 0zM408.14 52.21a1.5 1.5 0 1 0 3 0a1.5 1.5 0 1 0 -3 0zM409.38 52.03a1.5 1.5 0 1 0 3 0a1.5 1.5 0 1 0 -3 0zM410.62 51.86a1.5 1.5 0 1 0 3 0a1.5 1.5 0 1 0 -3 0zM411.86 51.68a1.5 1.5 0 1 0 3 0a1.5 1.5 0 1 0 -3 0zM413.1 51.51a1.5 1.5 0 1 0 3 0a1.5 1.5 0 1 0 -3 0zM414.34 51.34a1.5 1.5 0 1 0 3 0a1.5 1.5 0 1 0 -3 0z" fill="#800000"/>
<path d="M296.8 142.5L298.04 137.7L299.28 131.2L300.52 126.75L301.76 124.03L303 121.74L304.24 119.82L305.48 118.26L306.72 116.9L307.96 115.7L309.2 114.49L310.44 113.33L311.68 112.28L312.92 111.31L314.16 110.39L315.4 109.53L316.64 108.72L317.88 107.97L319.12 107.26L320.36 106.59L321.6 105.95L322.84 105.31L324.08 104.71L325.32 104.12L326.56 103.57L327.8 103.03L329.04 102.52L330.28 102.02L331.52 101.52L332.76 101.02L334 100.53L335.24 100.07L336.48 99.61L337.72 99.17L338.96 98.75L340.2 98.35L341.44 97.96L342.68 97.58L343.92 97.22L345.16 96.86L346.4 96.52L347.64 96.18L348.88 95.9L350.12 95.69L351.36 95.48L352.6 95.28L353.84 95.08L355.08 94.88L356.32 94.51L357.56 94.16L358.8 93.81L360.04 93.47L361.28 93.13L362.52 92.81L363.76 92.48L365 92.17L366.24 91.86L367.48 91.55L368.72 91.25L369.96 90.96L371.2 90.67L372.44 90.38L373.68 90.08L374.92 89.78L376.16 89.48L377.4 89.18L378.64 88.89L379.88 88.61L381.12 88.33L382.36 88.05L383.6 87.77L384.84 87.5L386.08 87.24L387.32 86.98L388.56 86.72L389.8 86.46L391.04 86.21L392.28 85.95L393.52 85.7L394.76 85.45L396 85.2L397.24 84.95L398.48 84.71L399.72 84.47L400.96 84.24L402.2 84.01L403.44 83.78L404.68 83.55L405.92 83.32L407.16 83.1L408.4 82.88L409.64 82.61L410.88 82.35L412.12 82.09L413.36 81.84L414.6 81.58L415.84 81.33L417.08 81.09L418.32 80.84L419.56 80.6L420.8 80.36L422.04 80.13L423.28 79.89L424.52 79.66L425.76 79.45L427 79.26L428.24 79.07L429.48 78.89L430.72 78.7L431.96 78.52L433.2 78.34L434.44 78.16L435.68 77.99L436.92 77.81L438.16 77.64L439.4 77.47L440.64 77.3L441.88 77.13L443.12 76.96L444.36 76.8L445.6 76.63" fill="none" stroke="#007474" stroke-width="0.5" stroke-opacity="0.5"/>
<path d="M296.8 144.18L298.48 141.16L295.12 141.16zM298.04 139.38L299.72 136.36L296.36 136.36zM299.28 132.88L300.96 129.86L297.6 129.86zM300.52 128.43L302.2 125.4L298.84 125.4zM301.76 125.71L303.44 122.68L300.08 122.68zM303 123.42L304.68 120.39L301.32 120.39zM304.24 121.5L305.92 118.48L302.56 118.48zM305.48 119.94L307.16 116.91L303.8 116.91zM306.72 118.58L308.4 115.56L305.04 115.56zM307.96 117.38L309.64 114.36L306.28 114.36zM309.2 116.17L310.88 113.14L307.52 113.14zM310.44 115.01L312.12 111.99L308.76 111.99zM311.68 113.96L313.36 110.94L310 110.94zM312.92 112.99L314.6 109.96L311.24 109.96zM314.16 112.07L315.84 109.04L312.48 109.04zM315.4 111.21L317.08 108.18L313.72 108.18zM316.64 110.4L318.32 107.38L314.96 107.38zM317.88 109.65L319.56 106.63L316.2 106.63zM319.12 108.94L320.8 105.92L317.44 105.92zM320.36 108.27L322.04 105.24L318.68 105.24zM321.6 107.63L323.28 104.61L319.92 104.61zM322.84 106.99L324.52 103.97L321.16 103.97zM324.08 106.39L325.76 103.36L322.4 103.36zM325.32 105.8L327 102.78L323.64 102.78zM326.56 105.25L328.24 102.22L324.88 102.22zM327.8 104.71L329.48 101.69L326.12 101.69zM329.04 104.2L330.72 101.17L327.36 101.17zM330.28 103.7L331.96 100.68L328.6 100.68zM331.52 103.2L333.2 100.17L329.84 100.17zM332.76 102.7L334.44 99.67L331.08 99.67zM334 102.21L335.68 99.19L332.32 99.19zM335.24 101.75L336.92 98.72L333.56 98.72zM336.48 101.29L338.16 98.27L334.8 98.27zM337.72 100.85L339.4 97.83L336.04 97.83zM338.96 100.43L340.64 97.4L337.28 97.4zM340.2 100.03L341.88 97L338.52 97zM341.44 99.64L343.12 96.61L339.76 96.61zM342.68 99.26L344.36 96.24L341 96.24zM343.92 98.9L345.6 95.87L342.24 95.87zM345.16 98.54L346.84 95.52L343.48 95.52zM346.4 98.2L348.08 95.17L344.72 95.17zM347.64 97.86L349.32 94.83L345.96 94.83zM348.88 97.58L350.56 94.56L347.2 94.56zM350.12 97.37L351.8 94.34L348.44 94.34zM351.36 97.16L353.04 94.14L349.68 94.14zM352.6 96.96L354.28 93.93L350.92 93.93zM353.84 96.76L355.52 93.74L352.16 93.74zM355.08 96.56L356.76 93.53L353.4 93.53zM356.32 96.19L358 93.17L354.64 93.17zM357.56 95.84L359.24 92.81L355.88 92.81zM358.8 95.49L360.48 92.47L357.12 92.47zM360.04 95.15L361.72 92.12L358.36 92.12zM361.28 94.81L362.96 91.79L359.6 91.79zM362.52 94.49L364.2 91.46L360.84 91.46zM363.76 94.16L365.44 91.14L362.08 91.14zM365 93.85L366.68 90.82L363.32 90.82zM366.24 93.54L367.92 90.51L364.56 90.51zM367.48 93.23L369.16 90.21L365.8 90.21zM368.72 92.93L370.4 89.91L367.04 89.91zM369.96 92.64L371.64 89.61L368.28 89.61zM371.2 92.35L372.88 89.32L369.52 89.32zM372.44 92.06L374.12 89.04L370.76 89.04zM373.68 91.76L375.36 88.74L372 88.74zM374.92 91.46L376.6 88.43L373.24 88.43zM376.16 91.16L377.84 88.13L374.48 88.13zM377.4 90.86L379.08 87.84L375.72 87.84zM378.64 90.57L380.32 87.55L376.96 87.55zM379.88 90.29L381.56 87.26L378.2 87.26zM381.12 90.01L382.8 86.98L379.44 86.98zM382.36 89.73L384.04 86.7L380.68 86.7zM383.6 89.45L385.28 86.43L381.92 86.43zM384.84 89.18L386.52 86.16L383.16 86.16zM386.08 88.92L387.76 85.89L384.4 85.89zM387.32 88.66L389 85.63L385.64 85.63zM388.56 88.4L390.24 85.37L386.88 85.37zM389.8 88.14L391.48 85.12L388.12 85.12zM391.04 87.89L392.72 84.86L389.36 84.86zM392.28 87.63L393.96 84.61L390.6 84.61zM393.52 87.38L395.2 84.35L391.84 84.35zM394.76 87.13L396.44 84.1L393.08 84.1zM396 86.88L397.68 83.86L394.32 83.86zM397.24 86.63L398.92 83.61L395.56 83.61zM398.48 86.39L400.16 83.37L396.8 83.37zM399.72 86.15L401.4 83.13L398.04 83.13zM400.96 85.92L402.64 82.9L399.28 82.9zM402.2 85.69L403.88 82.66L400.52 82.66zM403.44 85.46L405.12 82.43L401.76 82.43zM404.68 85.23L406.36 82.21L403 82.21zM405.92 85L407.6 81.98L404.24 81.98zM407.16 84.78L408.84 81.76L405.48 81.76zM408.4 84.56L410.08 81.53L406.72 81.53zM409.64 84.29L411.32 81.27L407.96 81.27zM410.88 84.03L412.56 81.01L409.2 81.01zM412.12 83.77L413.8 80.75L410.44 80.75zM413.36 83.52L415.04 80.49L411.68 80.49zM414.6 83.26L416.28 80.24L412.92 80.24zM415.84 83.01L417.52 79.99L414.16 79.99zM417.08 82.77L418.76 79.74L415.4 79.74zM418.32 82.52L420 79.5L416.64 79.5zM419.56 82.28L421.24 79.26L417.88 79.26zM420.8 82.04L422.48 79.02L419.12 79.02zM422.04 81.81L423.72 78.78L420.36 78.78zM423.28 81.57L424.96 78.55L421.6 78.55zM424.52 81.34L426.2 78.32L422.84 78.32zM425.76 81.13L427.44 78.1L424.08 78.1zM427 80.94L428.68 77.91L425.32 77.91zM428.24 80.75L429.92 77.73L426.56 77.73zM429.48 80.57L431.16 77.54L427.8 77.54zM430.72 80.38L432.4 77.36L429.04 77.36zM431.96 80.2L433.64 77.18L430.28 77.18zM433.2 80.02L434.88 77L431.52 77zM434.44 79.84L436.12 76.82L432.76 76.82zM435.68 79.67L437.36 76.64L434 76.64zM436.92 79.49L438.6 76.47L435.24 76.47zM438.16 79.32L439.84 76.3L436.48 76.3zM439.4 79.15L441.08 76.12L437.72 76.12zM440.64 78.98L442.32 75.95L438.96 75.95zM441.88 78.81L443.56 75.79L440.2 75.79zM443.12 78.64L444.8 75.62L441.44 75.62zM444.36 78.48L446.04 75.45L442.68 75.45zM445.6 78.31L447.28 75.29L443.92 75.29z" fill="#007474"/>
<path d="M440.98 74.99L441.99 76.8L439.97 76.8zM442.22 74.79L443.23 76.61L441.21 76.61zM443.46 74.6L444.47 76.42L442.45 76.42zM444.7 74.41L445.71 76.22L443.69 76.22zM445.94 74.22L446.95 76.03L444.93 76.03z" fill="#1010e0"/>
<path d="M185.2 7.4V207.4H458" fill="none" stroke="#111" stroke-width="1"/>
<path d="M185.2 7.4h-4.5M185.2 27.4h-4.5M185.2 47.4h-4.5M185.2 67.4h-4.5M185.2 87.4h-4.5M185.2 107.4h-4.5M185.2 127.4h-4.5M185.2 147.4h-4.5M185.2 167.4h-4.5M185.2 187.4h-4.5M185.2 207.4h-4.5M197.6 207.4v4.4M222.4 207.4v2.4M247.2 207.4v4.4M272 207.4v2.4M296.8 207.4v4.4M321.6 207.4v2.4M346.4 207.4v4.4M371.2 207.4v2.4M396 207.4v4.4M420.8 207.4v2.4M445.6 207.4v4.4" fill="none" stroke="#111" stroke-width="0.9"/>
<path d="M185.2 21.38h-2.4M185.2 17.86h-2.4M185.2 15.36h-2.4M185.2 13.42h-2.4M185.2 11.84h-2.4M185.2 10.5h-2.4M185.2 9.34h-2.4M185.2 8.32h-2.4M185.2 41.38h-2.4M185.2 37.86h-2.4M185.2 35.36h-2.4M185.2 33.42h-2.4M185.2 31.84h-2.4M185.2 30.5h-2.4M185.2 29.34h-2.4M185.2 28.32h-2.4M185.2 61.38h-2.4M185.2 57.86h-2.4M185.2 55.36h-2.4M185.2 53.42h-2.4M185.2 51.84h-2.4M185.2 50.5h-2.4M185.2 49.34h-2.4M185.2 48.32h-2.4M185.2 81.38h-2.4M185.2 77.86h-2.4M185.2 75.36h-2.4M185.2 73.42h-2.4M185.2 71.84h-2.4M185.2 70.5h-2.4M185.2 69.34h-2.4M185.2 68.32h-2.4M185.2 101.38h-2.4M185.2 97.86h-2.4M185.2 95.36h-2.4M185.2 93.42h-2.4M185.2 91.84h-2.4M185.2 90.5h-2.4M185.2 89.34h-2.4M185.2 88.32h-2.4M185.2 121.38h-2.4M185.2 117.86h-2.4M185.2 115.36h-2.4M185.2 113.42h-2.4M185.2 111.84h-2.4M185.2 110.5h-2.4M185.2 109.34h-2.4M185.2 108.32h-2.4M185.2 141.38h-2.4M185.2 137.86h-2.4M185.2 135.36h-2.4M185.2 133.42h-2.4M185.2 131.84h-2.4M185.2 130.5h-2.4M185.2 129.34h-2.4M185.2 128.32h-2.4M185.2 161.38h-2.4M185.2 157.86h-2.4M185.2 155.36h-2.4M185.2 153.42h-2.4M185.2 151.84h-2.4M185.2 150.5h-2.4M185.2 149.34h-2.4M185.2 148.32h-2.4M185.2 181.38h-2.4M185.2 177.86h-2.4M185.2 175.36h-2.4M185.2 173.42h-2.4M185.2 171.84h-2.4M185.2 170.5h-2.4M185.2 169.34h-2.4M185.2 168.32h-2.4M185.2 201.38h-2.4M185.2 197.86h-2.4M185.2 195.36h-2.4M185.2 193.42h-2.4M185.2 191.84h-2.4M185.2 190.5h-2.4M185.2 189.34h-2.4M185.2 188.32h-2.4" fill="none" stroke="#111" stroke-width="0.75"/>
<text x="177.6" y="11.3" font-size="15.4" text-anchor="end">1</text>
<text x="177.6" y="51.3" font-size="15.4" text-anchor="end">0.01</text>
<text x="177.6" y="91.3" font-size="15.4" text-anchor="end">1E-4</text>
<text x="177.6" y="131.3" font-size="15.4" text-anchor="end">1E-6</text>
<text x="177.6" y="171.3" font-size="15.4" text-anchor="end">1E-8</text>
<text x="177.6" y="211.3" font-size="15.4" text-anchor="end">1E-10</text>
<text x="197.6" y="226.3" font-size="15.4" text-anchor="middle">-4</text>
<text x="247.2" y="226.3" font-size="15.4" text-anchor="middle">-2</text>
<text x="296.8" y="226.3" font-size="15.4" text-anchor="middle">0</text>
<text x="346.4" y="226.3" font-size="15.4" text-anchor="middle">2</text>
<text x="396" y="226.3" font-size="15.4" text-anchor="middle">4</text>
<text x="445.6" y="226.3" font-size="15.4" text-anchor="middle">6</text>
<text x="333" y="248.8" font-size="22" text-anchor="middle">Voltage (V)</text>
<text x="136.6" y="113.5" font-size="21.5" text-anchor="middle" transform="rotate(-90 136.6 113.5)">Current(A)</text>
<text x="116.8" y="19.4" font-size="21.6" text-anchor="start">(a)</text>
<text x="298.8" y="22.6" font-size="16.0" text-anchor="start">&quot;2&quot; state</text>
<text x="309.2" y="62.6" font-size="16.0" text-anchor="start">&quot;1&quot; state</text>
<text x="313.8" y="147.2" font-size="15.9" text-anchor="start">&quot;0&quot; state</text>
<text x="215.6" y="60.8" font-size="15.6" text-anchor="start">set 2</text>
<text x="226.9" y="109.8" font-size="15.6" text-anchor="start">set 1</text>
<text x="400.4" y="39.5" font-size="15.7" text-anchor="start">reset 1</text>
<text x="435.7" y="67.3" font-size="15.7" text-anchor="start">reset 2</text>
<path d="M300.2 22.1L283.78 31.1" stroke="#333" stroke-width="0.5" fill="none"/>
<path d="M279.4 33.5L283.06 29.78L284.51 32.41z" fill="#111"/>
<path d="M320.4 24.8L323.08 29.38" stroke="#333" stroke-width="0.5" fill="none"/>
<path d="M325.6 33.7L321.78 30.14L324.37 28.63z" fill="#111"/>
<path d="M313.7 61.1L289.69 74.2" stroke="#333" stroke-width="0.5" fill="none"/>
<path d="M285.3 76.6L288.97 72.89L290.41 75.52z" fill="#111"/>
<path d="M326.7 58.9L329.26 64.03" stroke="#333" stroke-width="0.5" fill="none"/>
<path d="M331.5 68.5L327.92 64.7L330.61 63.36z" fill="#111"/>
<path d="M290.1 115.6L304.63 125.24" stroke="#333" stroke-width="0.5" fill="none"/>
<path d="M308.8 128L303.8 126.49L305.46 123.99z" fill="#111"/>
<path d="M330.6 106.7L332.21 120.23" stroke="#333" stroke-width="0.5" fill="none"/>
<path d="M332.8 125.2L330.72 120.41L333.7 120.06z" fill="#111"/>
<path d="M253.1 61.6L253.1 48.8" stroke="#333" stroke-width="0.5" fill="none"/>
<path d="M253.1 43.8L254.6 48.8L251.6 48.8z" fill="#111"/>
<path d="M264.3 104.6L264.3 88.9" stroke="#333" stroke-width="0.5" fill="none"/>
<path d="M264.3 83.9L265.8 88.9L262.8 88.9z" fill="#111"/>
<path d="M395.6 29.5L395.6 34.4" stroke="#333" stroke-width="0.5" fill="none"/>
<path d="M395.6 39.4L394.1 34.4L397.1 34.4z" fill="#111"/>
<path d="M431.8 48.5L431.8 63.2" stroke="#333" stroke-width="0.5" fill="none"/>
<path d="M431.8 68.2L430.3 63.2L433.3 63.2z" fill="#111"/>
<rect x="484.3" y="10.2" width="104.2" height="174.6" fill="#fff" stroke="#999" stroke-width="0.9"/>
<path d="M488 28.9H524.6" stroke="#f414f4" stroke-width="0.6" stroke-opacity="0.5"/>
<path d="M504.93 28.9L507.75 27.33L507.75 30.47z" fill="#f414f4"/>
<text x="529.3" y="34.4" font-size="15.85" text-anchor="start">sweep1</text>
<path d="M488 48.6H524.6" stroke="#808000" stroke-width="0.6" stroke-opacity="0.5"/>
<path d="M508.07 48.6L505.25 47.03L505.25 50.17z" fill="#808000"/>
<text x="529.3" y="54.1" font-size="15.85" text-anchor="start">sweep2</text>
<path d="M488 68.3H524.6" stroke="#000" stroke-width="0.6" stroke-opacity="0.5"/>
<path d="M505.1 66.9h2.8v2.8h-2.8z" fill="#000"/>
<text x="529.3" y="73.8" font-size="15.85" text-anchor="start">sweep3</text>
<path d="M488 88H524.6" stroke="#e80000" stroke-width="0.6" stroke-opacity="0.5"/>
<path d="M505.1 88a1.4 1.4 0 1 0 2.8 0a1.4 1.4 0 1 0 -2.8 0z" fill="#e80000"/>
<text x="529.3" y="93.5" font-size="15.85" text-anchor="start">sweep4</text>
<path d="M488 107.7H524.6" stroke="#12ea12" stroke-width="0.6" stroke-opacity="0.5"/>
<path d="M505.1 107.7a1.4 1.4 0 1 0 2.8 0a1.4 1.4 0 1 0 -2.8 0z" fill="#12ea12"/>
<text x="529.3" y="113.2" font-size="15.85" text-anchor="start">sweep5</text>
<path d="M488 127.4H524.6" stroke="#800000" stroke-width="0.6" stroke-opacity="0.5"/>
<path d="M505.1 127.4a1.4 1.4 0 1 0 2.8 0a1.4 1.4 0 1 0 -2.8 0z" fill="#800000"/>
<text x="529.3" y="132.9" font-size="15.85" text-anchor="start">sweep6</text>
<path d="M488 147.1H524.6" stroke="#1010e0" stroke-width="0.6" stroke-opacity="0.5"/>
<path d="M506.5 145.53L508.07 148.35L504.93 148.35z" fill="#1010e0"/>
<text x="529.3" y="152.6" font-size="15.85" text-anchor="start">sweep7</text>
<path d="M488 166.8H524.6" stroke="#007474" stroke-width="0.6" stroke-opacity="0.5"/>
<path d="M506.5 168.37L508.07 165.55L504.93 165.55z" fill="#007474"/>
<text x="529.3" y="172.3" font-size="15.85" text-anchor="start">sweep8</text>
</g>
<g id="panelB">
<path d="M179.9 441.7L178.44 408.97L177.19 401.76L175.94 398.21L174.68 395.96L173.42 394.14L172.17 392.58L170.91 391.02L169.66 389.8L168.4 388.75L167.15 387.7L165.89 386.65L164.64 385.54L163.38 384.28L162.13 383.03L160.88 381.77L159.62 378.54L158.36 375.47L157.11 373.38L155.85 371.29L154.6 369.4L153.34 367.52L152.09 365.84L150.83 364.78L149.58 365.05L148.32 365.24L147.07 364.3L145.81 363.36L144.56 362.38L143.3 361.4L142.05 316.76L140.79 316.68L139.54 316.6L138.28 316.52L137.03 316.34L135.77 316.13L134.52 315.92L133.26 314.83L132.01 313.77L130.75 312.84L129.5 310.82L128.24 310.65L126.99 310.47L125.73 310.3L124.48 310.13L123.22 309.97L121.97 309.81L120.71 309.66L119.46 309.5L118.2 309.36L116.95 309.21L115.69 309.05L114.44 308.84L113.18 308.64L111.93 308.44L110.67 308.25L109.42 308.05L108.16 307.87L106.91 307.68L105.65 307.5L104.4 307.32L103.14 307.14L101.89 306.97L100.63 306.8L99.38 306.63L98.12 306.47L96.87 306.36L95.61 306.29L94.36 306.22L93.1 306.16L91.85 306.09L90.59 306.03L89.34 305.97L88.08 305.9L86.83 305.89L85.57 305.87L84.32 305.86L83.06 305.85L81.81 305.84L80.55 305.82L79.3 305.81" fill="none" stroke="#000" stroke-width="0.5" stroke-opacity="0.5"/>
<path d="M178.6 440.4h2.6v2.6h-2.6zM177.14 407.67h2.6v2.6h-2.6zM175.89 400.46h2.6v2.6h-2.6zM174.63 396.91h2.6v2.6h-2.6zM173.38 394.66h2.6v2.6h-2.6zM172.12 392.84h2.6v2.6h-2.6zM170.87 391.28h2.6v2.6h-2.6zM169.61 389.72h2.6v2.6h-2.6zM168.36 388.5h2.6v2.6h-2.6zM167.1 387.45h2.6v2.6h-2.6zM165.85 386.4h2.6v2.6h-2.6zM164.59 385.35h2.6v2.6h-2.6zM163.34 384.24h2.6v2.6h-2.6zM162.08 382.98h2.6v2.6h-2.6zM160.83 381.73h2.6v2.6h-2.6zM159.57 380.47h2.6v2.6h-2.6zM158.32 377.24h2.6v2.6h-2.6zM157.06 374.17h2.6v2.6h-2.6zM155.81 372.08h2.6v2.6h-2.6zM154.55 369.99h2.6v2.6h-2.6zM153.3 368.1h2.6v2.6h-2.6zM152.04 366.22h2.6v2.6h-2.6zM150.79 364.54h2.6v2.6h-2.6zM149.53 363.48h2.6v2.6h-2.6zM148.28 363.75h2.6v2.6h-2.6zM147.02 363.94h2.6v2.6h-2.6zM145.77 363h2.6v2.6h-2.6zM144.51 362.06h2.6v2.6h-2.6zM143.26 361.08h2.6v2.6h-2.6zM142 360.1h2.6v2.6h-2.6zM140.75 315.46h2.6v2.6h-2.6zM139.49 315.38h2.6v2.6h-2.6zM138.24 315.3h2.6v2.6h-2.6zM136.98 315.22h2.6v2.6h-2.6zM135.73 315.04h2.6v2.6h-2.6zM134.47 314.83h2.6v2.6h-2.6zM133.22 314.62h2.6v2.6h-2.6zM131.96 313.53h2.6v2.6h-2.6zM130.71 312.47h2.6v2.6h-2.6zM129.45 311.54h2.6v2.6h-2.6zM128.2 309.52h2.6v2.6h-2.6zM126.94 309.35h2.6v2.6h-2.6zM125.69 309.17h2.6v2.6h-2.6zM124.43 309h2.6v2.6h-2.6zM123.18 308.83h2.6v2.6h-2.6zM121.92 308.67h2.6v2.6h-2.6zM120.67 308.51h2.6v2.6h-2.6zM119.41 308.36h2.6v2.6h-2.6zM118.16 308.2h2.6v2.6h-2.6zM116.9 308.06h2.6v2.6h-2.6zM115.65 307.91h2.6v2.6h-2.6zM114.39 307.75h2.6v2.6h-2.6zM113.14 307.54h2.6v2.6h-2.6zM111.88 307.34h2.6v2.6h-2.6zM110.63 307.14h2.6v2.6h-2.6zM109.37 306.95h2.6v2.6h-2.6zM108.12 306.75h2.6v2.6h-2.6zM106.86 306.57h2.6v2.6h-2.6zM105.61 306.38h2.6v2.6h-2.6zM104.35 306.2h2.6v2.6h-2.6zM103.1 306.02h2.6v2.6h-2.6zM101.84 305.84h2.6v2.6h-2.6zM100.59 305.67h2.6v2.6h-2.6zM99.33 305.5h2.6v2.6h-2.6zM98.08 305.33h2.6v2.6h-2.6zM96.82 305.17h2.6v2.6h-2.6zM95.57 305.06h2.6v2.6h-2.6zM94.31 304.99h2.6v2.6h-2.6zM93.06 304.92h2.6v2.6h-2.6zM91.8 304.86h2.6v2.6h-2.6zM90.55 304.79h2.6v2.6h-2.6zM89.29 304.73h2.6v2.6h-2.6zM88.04 304.67h2.6v2.6h-2.6zM86.78 304.6h2.6v2.6h-2.6zM85.53 304.59h2.6v2.6h-2.6zM84.27 304.57h2.6v2.6h-2.6zM83.02 304.56h2.6v2.6h-2.6zM81.76 304.55h2.6v2.6h-2.6zM80.51 304.54h2.6v2.6h-2.6zM79.25 304.52h2.6v2.6h-2.6zM78 304.51h2.6v2.6h-2.6z" fill="#000"/>
<path d="M179.7 373.9L178.44 340.47L177.19 335.29L175.94 332.18L174.68 329.83L173.42 327.91L172.17 326.21L170.91 324.78L169.66 323.54L168.4 322.52L167.15 321.62L165.89 320.81L164.64 320.07L163.38 319.39L162.13 318.76L160.88 318.2L159.62 317.68L158.36 317.18L157.11 316.72L155.85 316.28L154.6 315.86L153.34 315.47L152.09 315.08L150.83 314.7L149.58 314.34L148.32 313.99L147.07 313.66L145.81 313.34L144.56 313.03L143.3 312.74L142.05 312.47L140.79 312.21L139.54 311.96L138.28 311.72L137.03 311.49L135.77 311.26L134.52 311.04L133.26 310.82L132.01 310.61L130.75 310.41L129.5 310.22L128.24 310.05L126.99 309.87L125.73 309.7L124.48 309.53L123.22 309.37L121.97 309.21L120.71 309.06L119.46 308.9L118.2 308.76L116.95 308.61L115.69 308.45L114.44 308.24L113.18 308.04L111.93 307.84L110.67 307.65L109.42 307.45L108.16 307.27L106.91 307.08L105.65 306.9L104.4 306.72L103.14 306.54L101.89 306.37L100.63 306.2L99.38 306.03L98.12 305.87L96.87 305.76L95.61 305.69L94.36 305.62L93.1 305.56L91.85 305.49L90.59 305.43L89.34 305.37L88.08 305.3L86.83 305.29L85.57 305.27L84.32 305.26L83.06 305.25L81.81 305.24L80.55 305.22L79.3 305.21" fill="none" stroke="#e80000" stroke-width="0.5" stroke-opacity="0.5"/>
<path d="M178.4 373.9a1.3 1.3 0 1 0 2.6 0a1.3 1.3 0 1 0 -2.6 0zM177.14 340.47a1.3 1.3 0 1 0 2.6 0a1.3 1.3 0 1 0 -2.6 0zM175.89 335.29a1.3 1.3 0 1 0 2.6 0a1.3 1.3 0 1 0 -2.6 0zM174.63 332.18a1.3 1.3 0 1 0 2.6 0a1.3 1.3 0 1 0 -2.6 0zM173.38 329.83a1.3 1.3 0 1 0 2.6 0a1.3 1.3 0 1 0 -2.6 0zM172.12 327.91a1.3 1.3 0 1 0 2.6 0a1.3 1.3 0 1 0 -2.6 0zM170.87 326.21a1.3 1.3 0 1 0 2.6 0a1.3 1.3 0 1 0 -2.6 0zM169.61 324.78a1.3 1.3 0 1 0 2.6 0a1.3 1.3 0 1 0 -2.6 0zM168.36 323.54a1.3 1.3 0 1 0 2.6 0a1.3 1.3 0 1 0 -2.6 0zM167.1 322.52a1.3 1.3 0 1 0 2.6 0a1.3 1.3 0 1 0 -2.6 0zM165.85 321.62a1.3 1.3 0 1 0 2.6 0a1.3 1.3 0 1 0 -2.6 0zM164.59 320.81a1.3 1.3 0 1 0 2.6 0a1.3 1.3 0 1 0 -2.6 0zM163.34 320.07a1.3 1.3 0 1 0 2.6 0a1.3 1.3 0 1 0 -2.6 0zM162.08 319.39a1.3 1.3 0 1 0 2.6 0a1.3 1.3 0 1 0 -2.6 0zM160.83 318.76a1.3 1.3 0 1 0 2.6 0a1.3 1.3 0 1 0 -2.6 0zM159.57 318.2a1.3 1.3 0 1 0 2.6 0a1.3 1.3 0 1 0 -2.6 0zM158.32 317.68a1.3 1.3 0 1 0 2.6 0a1.3 1.3 0 1 0 -2.6 0zM157.06 317.18a1.3 1.3 0 1 0 2.6 0a1.3 1.3 0 1 0 -2.6 0zM155.81 316.72a1.3 1.3 0 1 0 2.6 0a1.3 1.3 0 1 0 -2.6 0zM154.55 316.28a1.3 1.3 0 1 0 2.6 0a1.3 1.3 0 1 0 -2.6 0zM153.3 315.86a1.3 1.3 0 1 0 2.6 0a1.3 1.3 0 1 0 -2.6 0zM152.04 315.47a1.3 1.3 0 1 0 2.6 0a1.3 1.3 0 1 0 -2.6 0zM150.79 315.08a1.3 1.3 0 1 0 2.6 0a1.3 1.3 0 1 0 -2.6 0zM149.53 314.7a1.3 1.3 0 1 0 2.6 0a1.3 1.3 0 1 0 -2.6 0zM148.28 314.34a1.3 1.3 0 1 0 2.6 0a1.3 1.3 0 1 0 -2.6 0zM147.02 313.99a1.3 1.3 0 1 0 2.6 0a1.3 1.3 0 1 0 -2.6 0zM145.77 313.66a1.3 1.3 0 1 0 2.6 0a1.3 1.3 0 1 0 -2.6 0zM144.51 313.34a1.3 1.3 0 1 0 2.6 0a1.3 1.3 0 1 0 -2.6 0zM143.26 313.03a1.3 1.3 0 1 0 2.6 0a1.3 1.3 0 1 0 -2.6 0zM142 312.74a1.3 1.3 0 1 0 2.6 0a1.3 1.3 0 1 0 -2.6 0zM140.75 312.47a1.3 1.3 0 1 0 2.6 0a1.3 1.3 0 1 0 -2.6 0zM139.49 312.21a1.3 1.3 0 1 0 2.6 0a1.3 1.3 0 1 0 -2.6 0zM138.24 311.96a1.3 1.3 0 1 0 2.6 0a1.3 1.3 0 1 0 -2.6 0zM136.98 311.72a1.3 1.3 0 1 0 2.6 0a1.3 1.3 0 1 0 -2.6 0zM135.73 311.49a1.3 1.3 0 1 0 2.6 0a1.3 1.3 0 1 0 -2.6 0zM134.47 311.26a1.3 1.3 0 1 0 2.6 0a1.3 1.3 0 1 0 -2.6 0zM133.22 311.04a1.3 1.3 0 1 0 2.6 0a1.3 1.3 0 1 0 -2.6 0zM131.96 310.82a1.3 1.3 0 1 0 2.6 0a1.3 1.3 0 1 0 -2.6 0zM130.71 310.61a1.3 1.3 0 1 0 2.6 0a1.3 1.3 0 1 0 -2.6 0zM129.45 310.41a1.3 1.3 0 1 0 2.6 0a1.3 1.3 0 1 0 -2.6 0zM128.2 310.22a1.3 1.3 0 1 0 2.6 0a1.3 1.3 0 1 0 -2.6 0zM126.94 310.05a1.3 1.3 0 1 0 2.6 0a1.3 1.3 0 1 0 -2.6 0zM125.69 309.87a1.3 1.3 0 1 0 2.6 0a1.3 1.3 0 1 0 -2.6 0zM124.43 309.7a1.3 1.3 0 1 0 2.6 0a1.3 1.3 0 1 0 -2.6 0zM123.18 309.53a1.3 1.3 0 1 0 2.6 0a1.3 1.3 0 1 0 -2.6 0zM121.92 309.37a1.3 1.3 0 1 0 2.6 0a1.3 1.3 0 1 0 -2.6 0zM120.67 309.21a1.3 1.3 0 1 0 2.6 0a1.3 1.3 0 1 0 -2.6 0zM119.41 309.06a1.3 1.3 0 1 0 2.6 0a1.3 1.3 0 1 0 -2.6 0zM118.16 308.9a1.3 1.3 0 1 0 2.6 0a1.3 1.3 0 1 0 -2.6 0zM116.9 308.76a1.3 1.3 0 1 0 2.6 0a1.3 1.3 0 1 0 -2.6 0zM115.65 308.61a1.3 1.3 0 1 0 2.6 0a1.3 1.3 0 1 0 -2.6 0zM114.39 308.45a1.3 1.3 0 1 0 2.6 0a1.3 1.3 0 1 0 -2.6 0zM113.14 308.24a1.3 1.3 0 1 0 2.6 0a1.3 1.3 0 1 0 -2.6 0zM111.88 308.04a1.3 1.3 0 1 0 2.6 0a1.3 1.3 0 1 0 -2.6 0zM110.63 307.84a1.3 1.3 0 1 0 2.6 0a1.3 1.3 0 1 0 -2.6 0zM109.37 307.65a1.3 1.3 0 1 0 2.6 0a1.3 1.3 0 1 0 -2.6 0zM108.12 307.45a1.3 1.3 0 1 0 2.6 0a1.3 1.3 0 1 0 -2.6 0zM106.86 307.27a1.3 1.3 0 1 0 2.6 0a1.3 1.3 0 1 0 -2.6 0zM105.61 307.08a1.3 1.3 0 1 0 2.6 0a1.3 1.3 0 1 0 -2.6 0zM104.35 306.9a1.3 1.3 0 1 0 2.6 0a1.3 1.3 0 1 0 -2.6 0zM103.1 306.72a1.3 1.3 0 1 0 2.6 0a1.3 1.3 0 1 0 -2.6 0zM101.84 306.54a1.3 1.3 0 1 0 2.6 0a1.3 1.3 0 1 0 -2.6 0zM100.59 306.37a1.3 1.3 0 1 0 2.6 0a1.3 1.3 0 1 0 -2.6 0zM99.33 306.2a1.3 1.3 0 1 0 2.6 0a1.3 1.3 0 1 0 -2.6 0zM98.08 306.03a1.3 1.3 0 1 0 2.6 0a1.3 1.3 0 1 0 -2.6 0zM96.82 305.87a1.3 1.3 0 1 0 2.6 0a1.3 1.3 0 1 0 -2.6 0zM95.57 305.76a1.3 1.3 0 1 0 2.6 0a1.3 1.3 0 1 0 -2.6 0zM94.31 305.69a1.3 1.3 0 1 0 2.6 0a1.3 1.3 0 1 0 -2.6 0zM93.06 305.62a1.3 1.3 0 1 0 2.6 0a1.3 1.3 0 1 0 -2.6 0zM91.8 305.56a1.3 1.3 0 1 0 2.6 0a1.3 1.3 0 1 0 -2.6 0zM90.55 305.49a1.3 1.3 0 1 0 2.6 0a1.3 1.3 0 1 0 -2.6 0zM89.29 305.43a1.3 1.3 0 1 0 2.6 0a1.3 1.3 0 1 0 -2.6 0zM88.04 305.37a1.3 1.3 0 1 0 2.6 0a1.3 1.3 0 1 0 -2.6 0zM86.78 305.3a1.3 1.3 0 1 0 2.6 0a1.3 1.3 0 1 0 -2.6 0zM85.53 305.29a1.3 1.3 0 1 0 2.6 0a1.3 1.3 0 1 0 -2.6 0zM84.27 305.27a1.3 1.3 0 1 0 2.6 0a1.3 1.3 0 1 0 -2.6 0zM83.02 305.26a1.3 1.3 0 1 0 2.6 0a1.3 1.3 0 1 0 -2.6 0zM81.76 305.25a1.3 1.3 0 1 0 2.6 0a1.3 1.3 0 1 0 -2.6 0zM80.51 305.24a1.3 1.3 0 1 0 2.6 0a1.3 1.3 0 1 0 -2.6 0zM79.25 305.22a1.3 1.3 0 1 0 2.6 0a1.3 1.3 0 1 0 -2.6 0zM78 305.21a1.3 1.3 0 1 0 2.6 0a1.3 1.3 0 1 0 -2.6 0z" fill="#e80000"/>
<path d="M179.7 373.9L180.95 342.37L182.21 337.97L183.46 334.45L184.72 331.64L185.97 329.31L187.23 327.5L188.48 325.98L189.74 324.66L191 323.54L192.25 322.55L193.5 321.64L194.76 320.82L196.01 320.06L197.27 319.37L198.52 318.8L199.78 318.27L201.03 317.77L202.29 317.3L203.54 316.86L204.8 316.42L206.06 315.95L207.31 315.5L208.56 315.07L209.82 314.66L211.07 314.27L212.33 313.89L213.58 313.53L214.84 313.18L216.09 312.84L217.35 312.51L218.6 312.2L219.86 311.9L221.12 311.64L222.37 311.39L223.62 311.14L224.88 310.9L226.13 310.67L227.39 310.45L228.64 310.23L229.9 310.01L231.16 309.8L232.41 309.6L233.66 309.4L234.92 309.32L236.18 309.36L237.43 309.4L238.69 309.43L239.94 309.47L241.19 309.51L242.45 309.54L243.7 309.58L244.96 309.52L246.21 309.23L247.47 308.95L248.72 308.68L249.98 308.44L251.24 308.22L252.49 308.01L253.75 307.8L255 307.59L256.25 307.38L257.51 307.18L258.76 306.98L260.02 306.79L261.27 306.59L262.53 306.4L263.78 306.22L265.04 306.15L266.3 306.09L267.55 306.03L269.4 313.7L270.7 357.8L272 356.6L273.82 355.98L275.08 355.94L276.33 355.89L277.59 355.85L278.85 355.81L280.1 355.77L281.36 355.72L282.61 355.68L283.87 355.64L285.12 355.6L286.38 355.57L287.63 355.54L288.88 355.51L290.14 355.49L291.39 355.46L292.65 355.43L293.9 355.4L295.16 355.17L296.42 354.92L297.67 355.24L298.93 356.06L300.18 356.52L301.44 356.55L302.69 356.58L303.94 356.61L305.2 356.65L306.45 356.68L307.71 356.71L308.97 356.74L310.22 356.78L311.48 356.81L312.73 356.84L313.99 356.87L315.24 356.91L316.5 356.94L317.75 356.97L319 357L320.26 357.03L321.51 357.07L322.77 357.1L324.02 357.13L325.28 357.16L326.53 357.19L327.79 357.23L329.05 357.26L330.3 357.29" fill="none" stroke="#1010e0" stroke-width="0.5" stroke-opacity="0.5"/>
<path d="M179.7 372.44L181.16 375.06L178.24 375.06zM180.95 340.92L182.41 343.54L179.5 343.54zM182.21 336.51L183.67 339.13L180.75 339.13zM183.46 332.99L184.92 335.61L182.01 335.61zM184.72 330.18L186.18 332.8L183.26 332.8zM185.97 327.85L187.43 330.47L184.52 330.47zM187.23 326.04L188.69 328.66L185.77 328.66zM188.48 324.52L189.94 327.14L187.03 327.14zM189.74 323.2L191.2 325.82L188.28 325.82zM191 322.09L192.45 324.71L189.54 324.71zM192.25 321.09L193.71 323.71L190.79 323.71zM193.5 320.19L194.96 322.81L192.05 322.81zM194.76 319.36L196.22 321.99L193.3 321.99zM196.01 318.61L197.47 321.23L194.56 321.23zM197.27 317.91L198.73 320.53L195.81 320.53zM198.52 317.34L199.98 319.96L197.07 319.96zM199.78 316.81L201.24 319.43L198.32 319.43zM201.03 316.31L202.49 318.94L199.58 318.94zM202.29 315.84L203.75 318.47L200.83 318.47zM203.54 315.4L205 318.02L202.09 318.02zM204.8 314.97L206.26 317.59L203.34 317.59zM206.06 314.5L207.51 317.12L204.6 317.12zM207.31 314.05L208.77 316.67L205.85 316.67zM208.56 313.62L210.02 316.24L207.11 316.24zM209.82 313.21L211.28 315.83L208.36 315.83zM211.07 312.81L212.53 315.44L209.62 315.44zM212.33 312.44L213.79 315.06L210.87 315.06zM213.58 312.07L215.04 314.69L212.13 314.69zM214.84 311.72L216.3 314.34L213.38 314.34zM216.09 311.38L217.55 314L214.64 314zM217.35 311.06L218.81 313.68L215.89 313.68zM218.6 310.74L220.06 313.36L217.15 313.36zM219.86 310.45L221.32 313.07L218.4 313.07zM221.12 310.19L222.57 312.81L219.66 312.81zM222.37 309.93L223.83 312.55L220.91 312.55zM223.62 309.69L225.08 312.31L222.17 312.31zM224.88 309.45L226.34 312.07L223.42 312.07zM226.13 309.22L227.59 311.84L224.68 311.84zM227.39 308.99L228.85 311.61L225.93 311.61zM228.64 308.77L230.1 311.39L227.19 311.39zM229.9 308.56L231.36 311.18L228.44 311.18zM231.16 308.35L232.61 310.97L229.7 310.97zM232.41 308.14L233.87 310.76L230.95 310.76zM233.66 307.94L235.12 310.56L232.21 310.56zM234.92 307.86L236.38 310.48L233.46 310.48zM236.18 307.9L237.63 310.52L234.72 310.52zM237.43 307.94L238.89 310.56L235.97 310.56zM238.69 307.98L240.14 310.6L237.23 310.6zM239.94 308.01L241.4 310.64L238.48 310.64zM241.19 308.05L242.65 310.67L239.74 310.67zM242.45 308.09L243.91 310.71L240.99 310.71zM243.7 308.12L245.16 310.74L242.25 310.74zM244.96 308.06L246.42 310.68L243.5 310.68zM246.21 307.78L247.67 310.4L244.76 310.4zM247.47 307.5L248.93 310.12L246.01 310.12zM248.72 307.22L250.18 309.85L247.27 309.85zM249.98 306.99L251.44 309.61L248.52 309.61zM251.24 306.77L252.69 309.39L249.78 309.39zM252.49 306.55L253.95 309.17L251.03 309.17zM253.75 306.34L255.2 308.96L252.29 308.96zM255 306.13L256.46 308.75L253.54 308.75zM256.25 305.93L257.71 308.55L254.8 308.55zM257.51 305.72L258.97 308.34L256.05 308.34zM258.76 305.53L260.22 308.15L257.31 308.15zM260.02 305.33L261.48 307.95L258.56 307.95zM261.27 305.14L262.73 307.76L259.82 307.76zM262.53 304.95L263.99 307.57L261.07 307.57zM263.78 304.76L265.24 307.38L262.33 307.38zM265.04 304.69L266.5 307.31L263.58 307.31zM266.3 304.63L267.75 307.25L264.84 307.25zM267.55 304.58L269.01 307.2L266.09 307.2zM269.4 312.24L270.86 314.86L267.94 314.86zM270.7 356.34L272.16 358.96L269.24 358.96zM272 355.14L273.46 357.76L270.54 357.76zM273.82 354.52L275.28 357.14L272.37 357.14zM275.08 354.48L276.54 357.1L273.62 357.1zM276.33 354.44L277.79 357.06L274.88 357.06zM277.59 354.4L279.05 357.02L276.13 357.02zM278.85 354.35L280.3 356.97L277.39 356.97zM280.1 354.31L281.56 356.93L278.64 356.93zM281.36 354.27L282.81 356.89L279.9 356.89zM282.61 354.23L284.07 356.85L281.15 356.85zM283.87 354.18L285.32 356.8L282.41 356.8zM285.12 354.14L286.58 356.76L283.66 356.76zM286.38 354.11L287.83 356.73L284.92 356.73zM287.63 354.09L289.09 356.71L286.17 356.71zM288.88 354.06L290.34 356.68L287.43 356.68zM290.14 354.03L291.6 356.65L288.68 356.65zM291.39 354L292.85 356.62L289.94 356.62zM292.65 353.97L294.11 356.59L291.19 356.59zM293.9 353.95L295.36 356.57L292.45 356.57zM295.16 353.71L296.62 356.33L293.7 356.33zM296.42 353.46L297.87 356.08L294.96 356.08zM297.67 353.78L299.13 356.4L296.21 356.4zM298.93 354.6L300.38 357.22L297.47 357.22zM300.18 355.06L301.64 357.68L298.72 357.68zM301.44 355.09L302.89 357.71L299.98 357.71zM302.69 355.12L304.15 357.75L301.23 357.75zM303.94 355.16L305.4 357.78L302.49 357.78zM305.2 355.19L306.66 357.81L303.74 357.81zM306.45 355.22L307.91 357.84L305 357.84zM307.71 355.25L309.17 357.88L306.25 357.88zM308.97 355.29L310.42 357.91L307.51 357.91zM310.22 355.32L311.68 357.94L308.76 357.94zM311.48 355.35L312.93 357.97L310.02 357.97zM312.73 355.39L314.19 358.01L311.27 358.01zM313.99 355.42L315.44 358.04L312.53 358.04zM315.24 355.45L316.7 358.07L313.78 358.07zM316.5 355.48L317.95 358.1L315.04 358.1zM317.75 355.51L319.21 358.13L316.29 358.13zM319 355.55L320.46 358.17L317.55 358.17zM320.26 355.58L321.72 358.2L318.8 358.2zM321.51 355.61L322.97 358.23L320.06 358.23zM322.77 355.64L324.23 358.26L321.31 358.26zM324.02 355.67L325.48 358.29L322.57 358.29zM325.28 355.71L326.74 358.33L323.82 358.33zM326.53 355.74L327.99 358.36L325.08 358.36zM327.79 355.77L329.25 358.39L326.33 358.39zM329.05 355.8L330.5 358.42L327.59 358.42zM330.3 355.83L331.76 358.45L328.84 358.45z" fill="#1010e0"/>
<path d="M179.7 438L180.95 407.47L182.21 401.56L183.46 397.84L184.72 395.15L185.97 393L187.23 391.21L188.48 389.49L189.74 388L191 386.68L192.25 385.51L193.5 384.54L194.76 383.7L196.01 382.92L197.27 382.2L198.52 381.53L199.78 380.91L201.03 380.38L202.29 379.9L203.54 379.44L204.8 379.01L206.06 378.59L207.31 378.2L208.56 377.83L209.82 377.39L211.07 376.93L212.33 376.49L213.58 376.06L214.84 375.65L216.09 375.31L217.35 374.99L218.6 374.68L219.86 374.38L221.12 374.03L222.37 373.67L223.62 373.32L224.88 372.98L226.13 372.65L227.39 372.33L228.64 372.02L229.9 371.71L231.16 371.41L232.41 371.12L233.66 370.84L234.92 370.59L236.18 370.36L237.43 370.15L238.69 369.93L239.94 369.72L241.19 369.52L242.45 369.31L243.7 369.12L244.96 368.92L246.21 368.73L247.47 368.55L248.72 368.37L249.98 368.19L251.24 368.01L252.49 367.84L253.75 367.67L255 367.5L256.25 367.33L257.51 367.16L258.76 367L260.02 366.84L261.27 366.68L262.53 366.53L263.78 366.37L265.04 366.22L266.3 366.07L267.55 365.93L268.81 365.78L270.06 365.64L271.31 365.5L272.57 365.36L273.82 365.23L275.08 365.09L276.33 364.95L277.59 364.82L278.85 364.68L280.1 364.55L281.36 364.42L282.61 364.29L283.87 364.17L285.12 364.04L286.38 363.92L287.63 363.79L288.88 363.67L290.14 363.55L291.39 363.43L292.65 363.32L293.9 363.2L295.16 363.08L296.42 362.93L297.67 362.79L298.93 362.65L300.18 362.5L301.44 362.36L302.69 362.22L303.94 362.08L305.2 361.95L306.45 361.81L307.71 361.68L308.97 361.55L310.22 361.41L311.48 361.28L312.73 361.17L313.99 361.07L315.24 360.97L316.5 360.87L317.75 360.77L319 360.68L320.26 360.58L321.51 360.49L322.77 360.39L324.02 360.3L325.28 360.21L326.53 360.12L327.79 360.03L329.05 359.94L330.3 359.85" fill="none" stroke="#007474" stroke-width="0.5" stroke-opacity="0.5"/>
<path d="M179.7 439.51L181.21 436.79L178.19 436.79zM180.95 408.98L182.47 406.26L179.44 406.26zM182.21 403.08L183.72 400.35L180.7 400.35zM183.46 399.35L184.98 396.63L181.95 396.63zM184.72 396.67L186.23 393.95L183.21 393.95zM185.97 394.51L187.49 391.79L184.46 391.79zM187.23 392.72L188.74 390L185.72 390zM188.48 391L190 388.28L186.97 388.28zM189.74 389.51L191.25 386.79L188.23 386.79zM191 388.19L192.51 385.47L189.48 385.47zM192.25 387.02L193.76 384.3L190.74 384.3zM193.5 386.05L195.02 383.33L191.99 383.33zM194.76 385.21L196.27 382.49L193.25 382.49zM196.01 384.43L197.53 381.71L194.5 381.71zM197.27 383.71L198.78 380.99L195.76 380.99zM198.52 383.04L200.04 380.32L197.01 380.32zM199.78 382.42L201.29 379.7L198.27 379.7zM201.03 381.89L202.55 379.17L199.52 379.17zM202.29 381.41L203.8 378.69L200.78 378.69zM203.54 380.95L205.06 378.23L202.03 378.23zM204.8 380.52L206.31 377.8L203.29 377.8zM206.06 380.11L207.57 377.39L204.54 377.39zM207.31 379.71L208.82 376.99L205.8 376.99zM208.56 379.34L210.08 376.62L207.05 376.62zM209.82 378.9L211.33 376.18L208.31 376.18zM211.07 378.44L212.59 375.72L209.56 375.72zM212.33 378L213.84 375.28L210.82 375.28zM213.58 377.57L215.1 374.85L212.07 374.85zM214.84 377.16L216.35 374.44L213.33 374.44zM216.09 376.82L217.61 374.1L214.58 374.1zM217.35 376.5L218.86 373.78L215.84 373.78zM218.6 376.19L220.12 373.47L217.09 373.47zM219.86 375.89L221.37 373.17L218.35 373.17zM221.12 375.54L222.63 372.82L219.6 372.82zM222.37 375.18L223.88 372.46L220.86 372.46zM223.62 374.83L225.14 372.11L222.11 372.11zM224.88 374.49L226.39 371.77L223.37 371.77zM226.13 374.16L227.65 371.44L224.62 371.44zM227.39 373.84L228.9 371.12L225.88 371.12zM228.64 373.53L230.16 370.81L227.13 370.81zM229.9 373.22L231.41 370.5L228.39 370.5zM231.16 372.93L232.67 370.21L229.64 370.21zM232.41 372.64L233.92 369.91L230.9 369.91zM233.66 372.35L235.18 369.63L232.15 369.63zM234.92 372.1L236.43 369.38L233.41 369.38zM236.18 371.88L237.69 369.15L234.66 369.15zM237.43 371.66L238.94 368.94L235.92 368.94zM238.69 371.44L240.2 368.72L237.17 368.72zM239.94 371.23L241.45 368.51L238.43 368.51zM241.19 371.03L242.71 368.31L239.68 368.31zM242.45 370.83L243.96 368.11L240.94 368.11zM243.7 370.63L245.22 367.91L242.19 367.91zM244.96 370.44L246.47 367.71L243.45 367.71zM246.21 370.25L247.73 367.53L244.7 367.53zM247.47 370.06L248.98 367.34L245.96 367.34zM248.72 369.88L250.24 367.16L247.21 367.16zM249.98 369.7L251.49 366.98L248.47 366.98zM251.24 369.52L252.75 366.8L249.72 366.8zM252.49 369.35L254 366.63L250.98 366.63zM253.75 369.18L255.26 366.46L252.23 366.46zM255 369.01L256.51 366.29L253.49 366.29zM256.25 368.84L257.77 366.12L254.74 366.12zM257.51 368.67L259.02 365.95L256 365.95zM258.76 368.51L260.28 365.79L257.25 365.79zM260.02 368.35L261.53 365.63L258.51 365.63zM261.27 368.19L262.79 365.47L259.76 365.47zM262.53 368.04L264.04 365.32L261.02 365.32zM263.78 367.89L265.3 365.16L262.27 365.16zM265.04 367.73L266.55 365.01L263.53 365.01zM266.3 367.59L267.81 364.86L264.78 364.86zM267.55 367.44L269.06 364.72L266.04 364.72zM268.81 367.3L270.32 364.57L267.29 364.57zM270.06 367.15L271.57 364.43L268.55 364.43zM271.31 367.01L272.83 364.29L269.8 364.29zM272.57 366.87L274.08 364.15L271.06 364.15zM273.82 366.74L275.34 364.02L272.31 364.02zM275.08 366.6L276.59 363.88L273.57 363.88zM276.33 366.47L277.85 363.74L274.82 363.74zM277.59 366.33L279.1 363.61L276.08 363.61zM278.85 366.2L280.36 363.48L277.33 363.48zM280.1 366.06L281.61 363.34L278.59 363.34zM281.36 365.93L282.87 363.21L279.84 363.21zM282.61 365.81L284.12 363.08L281.1 363.08zM283.87 365.68L285.38 362.96L282.35 362.96zM285.12 365.55L286.63 362.83L283.61 362.83zM286.38 365.43L287.89 362.71L284.86 362.71zM287.63 365.31L289.14 362.58L286.12 362.58zM288.88 365.18L290.4 362.46L287.37 362.46zM290.14 365.06L291.65 362.34L288.63 362.34zM291.39 364.95L292.91 362.22L289.88 362.22zM292.65 364.83L294.16 362.11L291.14 362.11zM293.9 364.71L295.42 361.99L292.39 361.99zM295.16 364.59L296.67 361.87L293.65 361.87zM296.42 364.45L297.93 361.72L294.9 361.72zM297.67 364.3L299.18 361.58L296.16 361.58zM298.93 364.16L300.44 361.44L297.41 361.44zM300.18 364.01L301.69 361.29L298.67 361.29zM301.44 363.87L302.95 361.15L299.92 361.15zM302.69 363.73L304.2 361.01L301.18 361.01zM303.94 363.6L305.46 360.87L302.43 360.87zM305.2 363.46L306.71 360.74L303.69 360.74zM306.45 363.32L307.97 360.6L304.94 360.6zM307.71 363.19L309.22 360.47L306.2 360.47zM308.97 363.06L310.48 360.34L307.45 360.34zM310.22 362.93L311.73 360.21L308.71 360.21zM311.48 362.8L312.99 360.08L309.96 360.08zM312.73 362.68L314.24 359.96L311.22 359.96zM313.99 362.58L315.5 359.86L312.47 359.86zM315.24 362.48L316.75 359.76L313.73 359.76zM316.5 362.38L318.01 359.66L314.98 359.66zM317.75 362.28L319.26 359.56L316.24 359.56zM319 362.19L320.52 359.47L317.49 359.47zM320.26 362.09L321.77 359.37L318.75 359.37zM321.51 362L323.03 359.28L320 359.28zM322.77 361.91L324.28 359.18L321.26 359.18zM324.02 361.81L325.54 359.09L322.51 359.09zM325.28 361.72L326.79 359L323.77 359zM326.53 361.63L328.05 358.91L325.02 358.91zM327.79 361.54L329.3 358.82L326.28 358.82zM329.05 361.45L330.56 358.73L327.53 358.73zM330.3 361.36L331.81 358.64L328.79 358.64z" fill="#007474"/>
<path d="M67.7 285.1V491H343" fill="none" stroke="#111" stroke-width="1"/>
<path d="M67.7 285.1h-4.5M67.7 305.69h-4.5M67.7 326.28h-4.5M67.7 346.87h-4.5M67.7 367.46h-4.5M67.7 388.05h-4.5M67.7 408.64h-4.5M67.7 429.23h-4.5M67.7 449.82h-4.5M67.7 470.41h-4.5M67.7 491h-4.5M66.75 491v2.4M79.3 491v4.4M91.85 491v2.4M104.4 491v4.4M116.95 491v2.4M129.5 491v4.4M142.05 491v2.4M154.6 491v4.4M167.15 491v2.4M179.7 491v4.4M192.25 491v2.4M204.8 491v4.4M217.35 491v2.4M229.9 491v4.4M242.45 491v2.4M255 491v4.4M267.55 491v2.4M280.1 491v4.4M292.65 491v2.4M305.2 491v4.4M317.75 491v2.4M330.3 491v4.4M342.85 491v2.4" fill="none" stroke="#111" stroke-width="0.9"/>
<path d="M67.7 299.49h-2.4M67.7 295.87h-2.4M67.7 293.29h-2.4M67.7 291.3h-2.4M67.7 289.67h-2.4M67.7 288.29h-2.4M67.7 287.1h-2.4M67.7 286.04h-2.4M67.7 320.08h-2.4M67.7 316.46h-2.4M67.7 313.88h-2.4M67.7 311.89h-2.4M67.7 310.26h-2.4M67.7 308.88h-2.4M67.7 307.69h-2.4M67.7 306.63h-2.4M67.7 340.67h-2.4M67.7 337.05h-2.4M67.7 334.47h-2.4M67.7 332.48h-2.4M67.7 330.85h-2.4M67.7 329.47h-2.4M67.7 328.28h-2.4M67.7 327.22h-2.4M67.7 361.26h-2.4M67.7 357.64h-2.4M67.7 355.06h-2.4M67.7 353.07h-2.4M67.7 351.44h-2.4M67.7 350.06h-2.4M67.7 348.87h-2.4M67.7 347.81h-2.4M67.7 381.85h-2.4M67.7 378.23h-2.4M67.7 375.65h-2.4M67.7 373.66h-2.4M67.7 372.03h-2.4M67.7 370.65h-2.4M67.7 369.46h-2.4M67.7 368.4h-2.4M67.7 402.44h-2.4M67.7 398.82h-2.4M67.7 396.24h-2.4M67.7 394.25h-2.4M67.7 392.62h-2.4M67.7 391.24h-2.4M67.7 390.05h-2.4M67.7 388.99h-2.4M67.7 423.03h-2.4M67.7 419.41h-2.4M67.7 416.83h-2.4M67.7 414.84h-2.4M67.7 413.21h-2.4M67.7 411.83h-2.4M67.7 410.64h-2.4M67.7 409.58h-2.4M67.7 443.62h-2.4M67.7 440h-2.4M67.7 437.42h-2.4M67.7 435.43h-2.4M67.7 433.8h-2.4M67.7 432.42h-2.4M67.7 431.23h-2.4M67.7 430.17h-2.4M67.7 464.21h-2.4M67.7 460.59h-2.4M67.7 458.01h-2.4M67.7 456.02h-2.4M67.7 454.39h-2.4M67.7 453.01h-2.4M67.7 451.82h-2.4M67.7 450.76h-2.4M67.7 484.8h-2.4M67.7 481.18h-2.4M67.7 478.6h-2.4M67.7 476.61h-2.4M67.7 474.98h-2.4M67.7 473.6h-2.4M67.7 472.41h-2.4M67.7 471.35h-2.4" fill="none" stroke="#111" stroke-width="0.75"/>
<text x="60" y="288.6" font-size="15.2" text-anchor="end">1</text>
<text x="60" y="329.78" font-size="15.2" text-anchor="end">0.01</text>
<text x="60" y="370.96" font-size="15.2" text-anchor="end">1E-4</text>
<text x="60" y="412.14" font-size="15.2" text-anchor="end">1E-6</text>
<text x="60" y="453.32" font-size="15.2" text-anchor="end">1E-8</text>
<text x="60" y="494.5" font-size="15.2" text-anchor="end">1E-10</text>
<text x="79.3" y="509.8" font-size="15.3" text-anchor="middle">-4</text>
<text x="104.4" y="509.8" font-size="15.3" text-anchor="middle">-3</text>
<text x="129.5" y="509.8" font-size="15.3" text-anchor="middle">-2</text>
<text x="154.6" y="509.8" font-size="15.3" text-anchor="middle">-1</text>
<text x="179.7" y="509.8" font-size="15.3" text-anchor="middle">0</text>
<text x="204.8" y="509.8" font-size="15.3" text-anchor="middle">1</text>
<text x="229.9" y="509.8" font-size="15.3" text-anchor="middle">2</text>
<text x="255" y="509.8" font-size="15.3" text-anchor="middle">3</text>
<text x="280.1" y="509.8" font-size="15.3" text-anchor="middle">4</text>
<text x="305.2" y="509.8" font-size="15.3" text-anchor="middle">5</text>
<text x="330.3" y="509.8" font-size="15.3" text-anchor="middle">6</text>
<text x="205.8" y="537.3" font-size="20.6" text-anchor="middle">Voltage (V)</text>
<text x="17.6" y="401" font-size="20.4" text-anchor="middle" transform="rotate(-90 17.6 401)">Current (A)</text>
<text x="-0.5" y="302.2" font-size="19.5" text-anchor="start">(b)</text>
<rect x="206.6" y="402.5" width="96" height="75.7" fill="#fff" stroke="#999" stroke-width="0.9"/>
<path d="M209.6 413.3H243.4" stroke="#000" stroke-width="0.6" stroke-opacity="0.5"/>
<path d="M225.3 412h2.6v2.6h-2.6z" fill="#000"/>
<text x="248.3" y="418.6" font-size="15.1" text-anchor="start">sweep1</text>
<path d="M209.6 432.3H243.4" stroke="#e80000" stroke-width="0.6" stroke-opacity="0.5"/>
<path d="M225.3 432.3a1.3 1.3 0 1 0 2.6 0a1.3 1.3 0 1 0 -2.6 0z" fill="#e80000"/>
<text x="248.3" y="437.6" font-size="15.1" text-anchor="start">sweep2</text>
<path d="M209.6 451.3H243.4" stroke="#1010e0" stroke-width="0.6" stroke-opacity="0.5"/>
<path d="M226.6 449.84L228.06 452.46L225.14 452.46z" fill="#1010e0"/>
<text x="248.3" y="456.6" font-size="15.1" text-anchor="start">sweep3</text>
<path d="M209.6 470.3H243.4" stroke="#007474" stroke-width="0.6" stroke-opacity="0.5"/>
<path d="M226.6 471.76L228.06 469.14L225.14 469.14z" fill="#007474"/>
<text x="248.3" y="475.6" font-size="15.1" text-anchor="start">sweep4</text>
</g>
<g id="panelC">
<path d="M511.8 446.3L510.7 407.07L509.79 400.33L508.89 396.71L507.98 394.41L507.08 392.11L506.18 390.32L505.27 388.76L504.37 387.19L503.46 385.63L502.56 384.28L501.66 383.09L500.75 381.89L499.85 380.69L498.94 379.49L498.04 378.5L497.14 377.71L496.23 376.93L495.33 376.14L494.42 375.36L493.52 374.51L492.62 373.58L491.71 372.65L490.81 371.72L489.9 370.55L489 369.26L488.1 367.64L487.19 365.38L486.29 362.83L485.38 360.06L484.48 350.83L483.58 345.73L482.67 341.97L481.77 339.16L480.86 337.26L479.96 336.36L479.06 335.46L478.15 334.55L477.25 333.84L476.34 333.44L475.44 333.04L474.54 332.63L473.63 332.23L472.73 331.83L471.82 331.42L470.92 331.02L470.02 330.66L469.11 330.47L468.21 330.27L467.3 330.08L466.4 329.89L465.5 329.73L464.59 329.62L463.69 329.5L462.78 329.44L461.88 329.76L460.98 330.08L460.07 330.39L459.17 330.69L458.26 330.5L457.36 330.31L456.46 330.11L455.55 329.92L454.65 329.73L453.74 329.56L452.84 329.39L451.94 329.22L451.03 329.05L450.13 328.88L449.22 328.71L448.32 328.54L447.42 328.44L446.51 328.36L445.61 328.28L444.7 328.2L443.8 328.12L442.9 328.04L441.99 327.96L441.09 327.88L440.18 327.8L439.28 327.72L438.38 327.64L437.47 327.56L436.57 327.48L435.66 327.4L434.76 327.32L433.86 327.24L432.95 327.16L432.05 327.08L431.14 326.99L430.24 326.91L429.34 326.83L428.43 326.74L427.53 326.66L426.62 326.58L425.72 326.5L424.82 326.41L423.91 326.33L423.01 326.25L422.1 326.16" fill="none" stroke="#000" stroke-width="0.5" stroke-opacity="0.5"/>
<path d="M510.55 445.05h2.5v2.5h-2.5zM509.45 405.82h2.5v2.5h-2.5zM508.54 399.08h2.5v2.5h-2.5zM507.64 395.46h2.5v2.5h-2.5zM506.73 393.16h2.5v2.5h-2.5zM505.83 390.86h2.5v2.5h-2.5zM504.93 389.07h2.5v2.5h-2.5zM504.02 387.51h2.5v2.5h-2.5zM503.12 385.94h2.5v2.5h-2.5zM502.21 384.38h2.5v2.5h-2.5zM501.31 383.03h2.5v2.5h-2.5zM500.41 381.84h2.5v2.5h-2.5zM499.5 380.64h2.5v2.5h-2.5zM498.6 379.44h2.5v2.5h-2.5zM497.69 378.24h2.5v2.5h-2.5zM496.79 377.25h2.5v2.5h-2.5zM495.89 376.46h2.5v2.5h-2.5zM494.98 375.68h2.5v2.5h-2.5zM494.08 374.89h2.5v2.5h-2.5zM493.17 374.11h2.5v2.5h-2.5zM492.27 373.26h2.5v2.5h-2.5zM491.37 372.33h2.5v2.5h-2.5zM490.46 371.4h2.5v2.5h-2.5zM489.56 370.47h2.5v2.5h-2.5zM488.65 369.3h2.5v2.5h-2.5zM487.75 368.01h2.5v2.5h-2.5zM486.85 366.39h2.5v2.5h-2.5zM485.94 364.13h2.5v2.5h-2.5zM485.04 361.58h2.5v2.5h-2.5zM484.13 358.81h2.5v2.5h-2.5zM483.23 349.58h2.5v2.5h-2.5zM482.33 344.48h2.5v2.5h-2.5zM481.42 340.72h2.5v2.5h-2.5zM480.52 337.91h2.5v2.5h-2.5zM479.61 336.01h2.5v2.5h-2.5zM478.71 335.11h2.5v2.5h-2.5zM477.81 334.21h2.5v2.5h-2.5zM476.9 333.3h2.5v2.5h-2.5zM476 332.59h2.5v2.5h-2.5zM475.09 332.19h2.5v2.5h-2.5zM474.19 331.79h2.5v2.5h-2.5zM473.29 331.38h2.5v2.5h-2.5zM472.38 330.98h2.5v2.5h-2.5zM471.48 330.58h2.5v2.5h-2.5zM470.57 330.17h2.5v2.5h-2.5zM469.67 329.77h2.5v2.5h-2.5zM468.77 329.41h2.5v2.5h-2.5zM467.86 329.22h2.5v2.5h-2.5zM466.96 329.02h2.5v2.5h-2.5zM466.05 328.83h2.5v2.5h-2.5zM465.15 328.64h2.5v2.5h-2.5zM464.25 328.48h2.5v2.5h-2.5zM463.34 328.37h2.5v2.5h-2.5zM462.44 328.25h2.5v2.5h-2.5zM461.53 328.19h2.5v2.5h-2.5zM460.63 328.51h2.5v2.5h-2.5zM459.73 328.83h2.5v2.5h-2.5zM458.82 329.14h2.5v2.5h-2.5zM457.92 329.44h2.5v2.5h-2.5zM457.01 329.25h2.5v2.5h-2.5zM456.11 329.06h2.5v2.5h-2.5zM455.21 328.86h2.5v2.5h-2.5zM454.3 328.67h2.5v2.5h-2.5zM453.4 328.48h2.5v2.5h-2.5zM452.49 328.31h2.5v2.5h-2.5zM451.59 328.14h2.5v2.5h-2.5zM450.69 327.97h2.5v2.5h-2.5zM449.78 327.8h2.5v2.5h-2.5zM448.88 327.63h2.5v2.5h-2.5zM447.97 327.46h2.5v2.5h-2.5zM447.07 327.29h2.5v2.5h-2.5zM446.17 327.19h2.5v2.5h-2.5zM445.26 327.11h2.5v2.5h-2.5zM444.36 327.03h2.5v2.5h-2.5zM443.45 326.95h2.5v2.5h-2.5zM442.55 326.87h2.5v2.5h-2.5zM441.65 326.79h2.5v2.5h-2.5zM440.74 326.71h2.5v2.5h-2.5zM439.84 326.63h2.5v2.5h-2.5zM438.93 326.55h2.5v2.5h-2.5zM438.03 326.47h2.5v2.5h-2.5zM437.13 326.39h2.5v2.5h-2.5zM436.22 326.31h2.5v2.5h-2.5zM435.32 326.23h2.5v2.5h-2.5zM434.41 326.15h2.5v2.5h-2.5zM433.51 326.07h2.5v2.5h-2.5zM432.61 325.99h2.5v2.5h-2.5zM431.7 325.91h2.5v2.5h-2.5zM430.8 325.83h2.5v2.5h-2.5zM429.89 325.74h2.5v2.5h-2.5zM428.99 325.66h2.5v2.5h-2.5zM428.09 325.58h2.5v2.5h-2.5zM427.18 325.49h2.5v2.5h-2.5zM426.28 325.41h2.5v2.5h-2.5zM425.37 325.33h2.5v2.5h-2.5zM424.47 325.25h2.5v2.5h-2.5zM423.57 325.16h2.5v2.5h-2.5zM422.66 325.08h2.5v2.5h-2.5zM421.76 325h2.5v2.5h-2.5zM420.85 324.91h2.5v2.5h-2.5z" fill="#000"/>
<path d="M512 391L510.7 361.65L509.79 353.47L508.89 350.57L507.98 348.71L507.08 347.27L506.18 346.09L505.27 344.94L504.37 343.93L503.46 343.04L502.56 342.24L501.66 341.52L500.75 340.8L499.85 340.13L498.94 339.51L498.04 338.93L497.14 338.39L496.23 337.89L495.33 337.41L494.42 336.96L493.52 336.49L492.62 336.03L491.71 335.59L490.81 335.17L489.9 334.77L489 334.38L488.1 334.01L487.19 333.65L486.29 333.31L485.38 332.97L484.48 332.63L483.58 332.28L482.67 331.94L481.77 331.61L480.86 331.29L479.96 330.98L479.06 330.68L478.15 330.38L477.25 330.1L476.34 329.82L475.44 329.55L474.54 329.28L473.63 329.02L472.73 328.76L471.82 328.5L470.92 328.25L470.02 328L469.11 327.76L468.21 327.52L467.3 327.29L466.4 327.07L465.5 326.84L464.59 326.63L463.69 326.41L462.78 326.2L461.88 326L460.98 325.8L460.07 325.65L459.17 325.5L458.26 325.36L457.36 325.22L456.46 325.08L455.55 324.94L454.65 324.81L453.74 324.68L452.84 324.55L451.94 324.42L451.03 324.3L450.13 324.17L449.22 324.05L448.32 323.93L447.42 323.9L446.51 323.9L445.61 323.9L444.7 323.9L443.8 323.9L442.9 323.9L441.99 323.9L441.09 323.9L440.18 323.9L439.28 323.9L438.38 323.9L437.47 323.9L436.57 323.9L435.66 323.9L434.76 323.9L433.86 323.9L432.95 323.9L432.05 323.9L431.14 323.9L430.24 323.9L429.34 323.9L428.43 323.9L427.53 323.9L426.62 323.9L425.72 323.9L424.82 323.9L423.91 323.9L423.01 323.9L422.1 323.9" fill="none" stroke="#e80000" stroke-width="0.5" stroke-opacity="0.5"/>
<path d="M510.7 391a1.3 1.3 0 1 0 2.6 0a1.3 1.3 0 1 0 -2.6 0zM509.4 361.65a1.3 1.3 0 1 0 2.6 0a1.3 1.3 0 1 0 -2.6 0zM508.49 353.47a1.3 1.3 0 1 0 2.6 0a1.3 1.3 0 1 0 -2.6 0zM507.59 350.57a1.3 1.3 0 1 0 2.6 0a1.3 1.3 0 1 0 -2.6 0zM506.68 348.71a1.3 1.3 0 1 0 2.6 0a1.3 1.3 0 1 0 -2.6 0zM505.78 347.27a1.3 1.3 0 1 0 2.6 0a1.3 1.3 0 1 0 -2.6 0zM504.88 346.09a1.3 1.3 0 1 0 2.6 0a1.3 1.3 0 1 0 -2.6 0zM503.97 344.94a1.3 1.3 0 1 0 2.6 0a1.3 1.3 0 1 0 -2.6 0zM503.07 343.93a1.3 1.3 0 1 0 2.6 0a1.3 1.3 0 1 0 -2.6 0zM502.16 343.04a1.3 1.3 0 1 0 2.6 0a1.3 1.3 0 1 0 -2.6 0zM501.26 342.24a1.3 1.3 0 1 0 2.6 0a1.3 1.3 0 1 0 -2.6 0zM500.36 341.52a1.3 1.3 0 1 0 2.6 0a1.3 1.3 0 1 0 -2.6 0zM499.45 340.8a1.3 1.3 0 1 0 2.6 0a1.3 1.3 0 1 0 -2.6 0zM498.55 340.13a1.3 1.3 0 1 0 2.6 0a1.3 1.3 0 1 0 -2.6 0zM497.64 339.51a1.3 1.3 0 1 0 2.6 0a1.3 1.3 0 1 0 -2.6 0zM496.74 338.93a1.3 1.3 0 1 0 2.6 0a1.3 1.3 0 1 0 -2.6 0zM495.84 338.39a1.3 1.3 0 1 0 2.6 0a1.3 1.3 0 1 0 -2.6 0zM494.93 337.89a1.3 1.3 0 1 0 2.6 0a1.3 1.3 0 1 0 -2.6 0zM494.03 337.41a1.3 1.3 0 1 0 2.6 0a1.3 1.3 0 1 0 -2.6 0zM493.12 336.96a1.3 1.3 0 1 0 2.6 0a1.3 1.3 0 1 0 -2.6 0zM492.22 336.49a1.3 1.3 0 1 0 2.6 0a1.3 1.3 0 1 0 -2.6 0zM491.32 336.03a1.3 1.3 0 1 0 2.6 0a1.3 1.3 0 1 0 -2.6 0zM490.41 335.59a1.3 1.3 0 1 0 2.6 0a1.3 1.3 0 1 0 -2.6 0zM489.51 335.17a1.3 1.3 0 1 0 2.6 0a1.3 1.3 0 1 0 -2.6 0zM488.6 334.77a1.3 1.3 0 1 0 2.6 0a1.3 1.3 0 1 0 -2.6 0zM487.7 334.38a1.3 1.3 0 1 0 2.6 0a1.3 1.3 0 1 0 -2.6 0zM486.8 334.01a1.3 1.3 0 1 0 2.6 0a1.3 1.3 0 1 0 -2.6 0zM485.89 333.65a1.3 1.3 0 1 0 2.6 0a1.3 1.3 0 1 0 -2.6 0zM484.99 333.31a1.3 1.3 0 1 0 2.6 0a1.3 1.3 0 1 0 -2.6 0zM484.08 332.97a1.3 1.3 0 1 0 2.6 0a1.3 1.3 0 1 0 -2.6 0zM483.18 332.63a1.3 1.3 0 1 0 2.6 0a1.3 1.3 0 1 0 -2.6 0zM482.28 332.28a1.3 1.3 0 1 0 2.6 0a1.3 1.3 0 1 0 -2.6 0zM481.37 331.94a1.3 1.3 0 1 0 2.6 0a1.3 1.3 0 1 0 -2.6 0zM480.47 331.61a1.3 1.3 0 1 0 2.6 0a1.3 1.3 0 1 0 -2.6 0zM479.56 331.29a1.3 1.3 0 1 0 2.6 0a1.3 1.3 0 1 0 -2.6 0zM478.66 330.98a1.3 1.3 0 1 0 2.6 0a1.3 1.3 0 1 0 -2.6 0zM477.76 330.68a1.3 1.3 0 1 0 2.6 0a1.3 1.3 0 1 0 -2.6 0zM476.85 330.38a1.3 1.3 0 1 0 2.6 0a1.3 1.3 0 1 0 -2.6 0zM475.95 330.1a1.3 1.3 0 1 0 2.6 0a1.3 1.3 0 1 0 -2.6 0zM475.04 329.82a1.3 1.3 0 1 0 2.6 0a1.3 1.3 0 1 0 -2.6 0zM474.14 329.55a1.3 1.3 0 1 0 2.6 0a1.3 1.3 0 1 0 -2.6 0zM473.24 329.28a1.3 1.3 0 1 0 2.6 0a1.3 1.3 0 1 0 -2.6 0zM472.33 329.02a1.3 1.3 0 1 0 2.6 0a1.3 1.3 0 1 0 -2.6 0zM471.43 328.76a1.3 1.3 0 1 0 2.6 0a1.3 1.3 0 1 0 -2.6 0zM470.52 328.5a1.3 1.3 0 1 0 2.6 0a1.3 1.3 0 1 0 -2.6 0zM469.62 328.25a1.3 1.3 0 1 0 2.6 0a1.3 1.3 0 1 0 -2.6 0zM468.72 328a1.3 1.3 0 1 0 2.6 0a1.3 1.3 0 1 0 -2.6 0zM467.81 327.76a1.3 1.3 0 1 0 2.6 0a1.3 1.3 0 1 0 -2.6 0zM466.91 327.52a1.3 1.3 0 1 0 2.6 0a1.3 1.3 0 1 0 -2.6 0zM466 327.29a1.3 1.3 0 1 0 2.6 0a1.3 1.3 0 1 0 -2.6 0zM465.1 327.07a1.3 1.3 0 1 0 2.6 0a1.3 1.3 0 1 0 -2.6 0zM464.2 326.84a1.3 1.3 0 1 0 2.6 0a1.3 1.3 0 1 0 -2.6 0zM463.29 326.63a1.3 1.3 0 1 0 2.6 0a1.3 1.3 0 1 0 -2.6 0zM462.39 326.41a1.3 1.3 0 1 0 2.6 0a1.3 1.3 0 1 0 -2.6 0zM461.48 326.2a1.3 1.3 0 1 0 2.6 0a1.3 1.3 0 1 0 -2.6 0zM460.58 326a1.3 1.3 0 1 0 2.6 0a1.3 1.3 0 1 0 -2.6 0zM459.68 325.8a1.3 1.3 0 1 0 2.6 0a1.3 1.3 0 1 0 -2.6 0zM458.77 325.65a1.3 1.3 0 1 0 2.6 0a1.3 1.3 0 1 0 -2.6 0zM457.87 325.5a1.3 1.3 0 1 0 2.6 0a1.3 1.3 0 1 0 -2.6 0zM456.96 325.36a1.3 1.3 0 1 0 2.6 0a1.3 1.3 0 1 0 -2.6 0zM456.06 325.22a1.3 1.3 0 1 0 2.6 0a1.3 1.3 0 1 0 -2.6 0zM455.16 325.08a1.3 1.3 0 1 0 2.6 0a1.3 1.3 0 1 0 -2.6 0zM454.25 324.94a1.3 1.3 0 1 0 2.6 0a1.3 1.3 0 1 0 -2.6 0zM453.35 324.81a1.3 1.3 0 1 0 2.6 0a1.3 1.3 0 1 0 -2.6 0zM452.44 324.68a1.3 1.3 0 1 0 2.6 0a1.3 1.3 0 1 0 -2.6 0zM451.54 324.55a1.3 1.3 0 1 0 2.6 0a1.3 1.3 0 1 0 -2.6 0zM450.64 324.42a1.3 1.3 0 1 0 2.6 0a1.3 1.3 0 1 0 -2.6 0zM449.73 324.3a1.3 1.3 0 1 0 2.6 0a1.3 1.3 0 1 0 -2.6 0zM448.83 324.17a1.3 1.3 0 1 0 2.6 0a1.3 1.3 0 1 0 -2.6 0zM447.92 324.05a1.3 1.3 0 1 0 2.6 0a1.3 1.3 0 1 0 -2.6 0zM447.02 323.93a1.3 1.3 0 1 0 2.6 0a1.3 1.3 0 1 0 -2.6 0zM446.12 323.9a1.3 1.3 0 1 0 2.6 0a1.3 1.3 0 1 0 -2.6 0zM445.21 323.9a1.3 1.3 0 1 0 2.6 0a1.3 1.3 0 1 0 -2.6 0zM444.31 323.9a1.3 1.3 0 1 0 2.6 0a1.3 1.3 0 1 0 -2.6 0zM443.4 323.9a1.3 1.3 0 1 0 2.6 0a1.3 1.3 0 1 0 -2.6 0zM442.5 323.9a1.3 1.3 0 1 0 2.6 0a1.3 1.3 0 1 0 -2.6 0zM441.6 323.9a1.3 1.3 0 1 0 2.6 0a1.3 1.3 0 1 0 -2.6 0zM440.69 323.9a1.3 1.3 0 1 0 2.6 0a1.3 1.3 0 1 0 -2.6 0zM439.79 323.9a1.3 1.3 0 1 0 2.6 0a1.3 1.3 0 1 0 -2.6 0zM438.88 323.9a1.3 1.3 0 1 0 2.6 0a1.3 1.3 0 1 0 -2.6 0zM437.98 323.9a1.3 1.3 0 1 0 2.6 0a1.3 1.3 0 1 0 -2.6 0zM437.08 323.9a1.3 1.3 0 1 0 2.6 0a1.3 1.3 0 1 0 -2.6 0zM436.17 323.9a1.3 1.3 0 1 0 2.6 0a1.3 1.3 0 1 0 -2.6 0zM435.27 323.9a1.3 1.3 0 1 0 2.6 0a1.3 1.3 0 1 0 -2.6 0zM434.36 323.9a1.3 1.3 0 1 0 2.6 0a1.3 1.3 0 1 0 -2.6 0zM433.46 323.9a1.3 1.3 0 1 0 2.6 0a1.3 1.3 0 1 0 -2.6 0zM432.56 323.9a1.3 1.3 0 1 0 2.6 0a1.3 1.3 0 1 0 -2.6 0zM431.65 323.9a1.3 1.3 0 1 0 2.6 0a1.3 1.3 0 1 0 -2.6 0zM430.75 323.9a1.3 1.3 0 1 0 2.6 0a1.3 1.3 0 1 0 -2.6 0zM429.84 323.9a1.3 1.3 0 1 0 2.6 0a1.3 1.3 0 1 0 -2.6 0zM428.94 323.9a1.3 1.3 0 1 0 2.6 0a1.3 1.3 0 1 0 -2.6 0zM428.04 323.9a1.3 1.3 0 1 0 2.6 0a1.3 1.3 0 1 0 -2.6 0zM427.13 323.9a1.3 1.3 0 1 0 2.6 0a1.3 1.3 0 1 0 -2.6 0zM426.23 323.9a1.3 1.3 0 1 0 2.6 0a1.3 1.3 0 1 0 -2.6 0zM425.32 323.9a1.3 1.3 0 1 0 2.6 0a1.3 1.3 0 1 0 -2.6 0zM424.42 323.9a1.3 1.3 0 1 0 2.6 0a1.3 1.3 0 1 0 -2.6 0zM423.52 323.9a1.3 1.3 0 1 0 2.6 0a1.3 1.3 0 1 0 -2.6 0zM422.61 323.9a1.3 1.3 0 1 0 2.6 0a1.3 1.3 0 1 0 -2.6 0zM421.71 323.9a1.3 1.3 0 1 0 2.6 0a1.3 1.3 0 1 0 -2.6 0zM420.8 323.9a1.3 1.3 0 1 0 2.6 0a1.3 1.3 0 1 0 -2.6 0z" fill="#e80000"/>
<path d="M512 393.8L512.5 365.46L513.41 359.76L514.31 356.55L515.22 354.16L516.12 352.13L517.02 350.46L517.93 348.98L518.83 347.7L519.74 346.58L520.64 345.37L521.54 344.26L522.45 343.25L523.35 342.32L524.26 341.46L525.16 340.65L526.06 339.9L526.97 339.2L527.87 338.56L528.78 337.97L529.68 337.4L530.58 336.87L531.49 336.35L532.39 335.86L533.3 335.39L534.2 334.94L535.1 334.51L536.01 334.1L536.91 333.7L537.82 333.35L538.72 333.01L539.62 332.69L540.53 332.37L541.43 332.07L542.34 331.77L543.24 331.48L544.14 331.2L545.05 330.93L545.95 330.67L546.86 330.41L547.76 330.16L548.66 329.92L549.57 329.69L550.47 329.48L551.38 329.28L552.28 329.09L553.18 328.89L554.09 328.71L554.99 328.52L555.9 328.34L556.8 328.16L557.7 327.99L558.61 327.82L559.51 327.65L560.42 327.49L561.32 327.33L562.22 327.17L563.13 327.01L564.03 326.88L564.94 326.8L565.84 326.72L566.74 326.64L567.65 326.56L568.55 326.49L569.46 326.41L570.36 326.34L571.26 326.26L572.17 326.19L573.07 326.12L573.98 326.05L574.88 325.98L575.78 325.92L576.69 325.96L577.59 326.04L578.5 326.12L579.4 326.2L580.3 326.27L581.21 326.35L582.11 326.42L583.02 326.5L583.92 326.57L584.82 326.64L585.73 326.71L586.63 326.78L587.54 326.85L588.44 326.95L589.34 327.15L590.25 327.34L591.15 327.53L592.06 327.72L592.96 327.9L593.86 328.09L594.77 328.27L595.67 328.45L596.58 328.62L597.48 328.8L598.38 329.15L599.29 329.75L600.19 330.33L601.1 330.92L602 331.93L602.9 331.83L603.81 331.73L604.71 331.64L605.62 331.54L606.52 331.48L607.42 331.44L608.33 331.4L609.23 331.36L610.14 331.31L611.04 331.27L611.94 331.23L612.85 331.11L613.75 330.57L614.66 329.94L615.56 329.86L616.46 330.81L617.37 331.65L618.27 331.81L619.18 331.98L620.08 332.14L620.98 332.31L621.89 332.08L622.79 331.34L623.7 330.32L624.6 330.33L625.5 333.91L626.41 338.29L627.31 336.63L628.22 334.33L629.12 336.34L630.02 339.09L630.93 341.22L631.83 341.92L632.74 338.88L633.64 335.75L634.54 349.87L635.45 350.51L636.35 350.89L637.26 350.87L638.16 350.85L639.06 350.82L639.97 350.8L640.87 350.78L641.78 350.76L642.68 350.73L643.58 350.71L644.49 350.69L645.39 350.67L646.3 350.64L647.2 350.62L648.1 350.6L649.01 350.56L649.91 350.52L650.82 350.48L651.72 350.44L652.62 350.4L653.53 350.36L654.43 350.33L655.34 350.29L656.24 350.25L657.14 350.21" fill="none" stroke="#1010e0" stroke-width="0.5" stroke-opacity="0.5"/>
<path d="M512 392.23L513.57 395.05L510.43 395.05zM512.5 363.9L514.07 366.72L510.94 366.72zM513.41 358.2L514.98 361.02L511.84 361.02zM514.31 354.99L515.88 357.81L512.74 357.81zM515.22 352.6L516.78 355.42L513.65 355.42zM516.12 350.56L517.69 353.38L514.55 353.38zM517.02 348.89L518.59 351.71L515.46 351.71zM517.93 347.41L519.5 350.24L516.36 350.24zM518.83 346.13L520.4 348.96L517.26 348.96zM519.74 345.01L521.3 347.83L518.17 347.83zM520.64 343.8L522.21 346.62L519.07 346.62zM521.54 342.69L523.11 345.51L519.98 345.51zM522.45 341.68L524.02 344.5L520.88 344.5zM523.35 340.75L524.92 343.57L521.78 343.57zM524.26 339.89L525.82 342.71L522.69 342.71zM525.16 339.09L526.73 341.91L523.59 341.91zM526.06 338.34L527.63 341.16L524.5 341.16zM526.97 337.63L528.54 340.45L525.4 340.45zM527.87 337L529.44 339.82L526.3 339.82zM528.78 336.4L530.34 339.22L527.21 339.22zM529.68 335.84L531.25 338.66L528.11 338.66zM530.58 335.3L532.15 338.12L529.02 338.12zM531.49 334.78L533.06 337.61L529.92 337.61zM532.39 334.29L533.96 337.12L530.82 337.12zM533.3 333.83L534.86 336.65L531.73 336.65zM534.2 333.38L535.77 336.2L532.63 336.2zM535.1 332.94L536.67 335.77L533.54 335.77zM536.01 332.53L537.58 335.35L534.44 335.35zM536.91 332.13L538.48 334.95L535.34 334.95zM537.82 331.78L539.38 334.6L536.25 334.6zM538.72 331.44L540.29 334.27L537.15 334.27zM539.62 331.12L541.19 333.94L538.06 333.94zM540.53 330.8L542.1 333.63L538.96 333.63zM541.43 330.5L543 333.32L539.86 333.32zM542.34 330.2L543.9 333.03L540.77 333.03zM543.24 329.92L544.81 332.74L541.67 332.74zM544.14 329.64L545.71 332.46L542.58 332.46zM545.05 329.37L546.62 332.19L543.48 332.19zM545.95 329.1L547.52 331.92L544.38 331.92zM546.86 328.84L548.42 331.67L545.29 331.67zM547.76 328.59L549.33 331.42L546.19 331.42zM548.66 328.35L550.23 331.17L547.1 331.17zM549.57 328.12L551.14 330.95L548 330.95zM550.47 327.92L552.04 330.74L548.9 330.74zM551.38 327.72L552.94 330.54L549.81 330.54zM552.28 327.52L553.85 330.34L550.71 330.34zM553.18 327.33L554.75 330.15L551.62 330.15zM554.09 327.14L555.66 329.96L552.52 329.96zM554.99 326.95L556.56 329.77L553.42 329.77zM555.9 326.77L557.46 329.59L554.33 329.59zM556.8 326.59L558.37 329.42L555.23 329.42zM557.7 326.42L559.27 329.24L556.14 329.24zM558.61 326.25L560.18 329.07L557.04 329.07zM559.51 326.08L561.08 328.91L557.94 328.91zM560.42 325.92L561.98 328.74L558.85 328.74zM561.32 325.76L562.89 328.58L559.75 328.58zM562.22 325.6L563.79 328.42L560.66 328.42zM563.13 325.45L564.7 328.27L561.56 328.27zM564.03 325.31L565.6 328.13L562.46 328.13zM564.94 325.23L566.5 328.05L563.37 328.05zM565.84 325.15L567.41 327.97L564.27 327.97zM566.74 325.07L568.31 327.89L565.18 327.89zM567.65 324.99L569.22 327.82L566.08 327.82zM568.55 324.92L570.12 327.74L566.98 327.74zM569.46 324.84L571.02 327.66L567.89 327.66zM570.36 324.77L571.93 327.59L568.79 327.59zM571.26 324.7L572.83 327.52L569.7 327.52zM572.17 324.62L573.74 327.45L570.6 327.45zM573.07 324.55L574.64 327.38L571.5 327.38zM573.98 324.48L575.54 327.31L572.41 327.31zM574.88 324.42L576.45 327.24L573.31 327.24zM575.78 324.35L577.35 327.17L574.22 327.17zM576.69 324.39L578.26 327.22L575.12 327.22zM577.59 324.47L579.16 327.3L576.02 327.3zM578.5 324.55L580.06 327.37L576.93 327.37zM579.4 324.63L580.97 327.45L577.83 327.45zM580.3 324.7L581.87 327.53L578.74 327.53zM581.21 324.78L582.78 327.6L579.64 327.6zM582.11 324.85L583.68 327.68L580.54 327.68zM583.02 324.93L584.58 327.75L581.45 327.75zM583.92 325L585.49 327.82L582.35 327.82zM584.82 325.07L586.39 327.89L583.26 327.89zM585.73 325.14L587.3 327.97L584.16 327.97zM586.63 325.21L588.2 328.04L585.06 328.04zM587.54 325.28L589.1 328.1L585.97 328.1zM588.44 325.38L590.01 328.21L586.87 328.21zM589.34 325.58L590.91 328.4L587.78 328.4zM590.25 325.77L591.82 328.59L588.68 328.59zM591.15 325.96L592.72 328.78L589.58 328.78zM592.06 326.15L593.62 328.97L590.49 328.97zM592.96 326.33L594.53 329.16L591.39 329.16zM593.86 326.52L595.43 329.34L592.3 329.34zM594.77 326.7L596.34 329.52L593.2 329.52zM595.67 326.88L597.24 329.7L594.1 329.7zM596.58 327.06L598.14 329.88L595.01 329.88zM597.48 327.23L599.05 330.05L595.91 330.05zM598.38 327.59L599.95 330.41L596.82 330.41zM599.29 328.18L600.86 331L597.72 331zM600.19 328.77L601.76 331.59L598.62 331.59zM601.1 329.35L602.66 332.17L599.53 332.17zM602 330.36L603.57 333.18L600.43 333.18zM602.9 330.26L604.47 333.08L601.34 333.08zM603.81 330.17L605.38 332.99L602.24 332.99zM604.71 330.07L606.28 332.89L603.14 332.89zM605.62 329.97L607.18 332.8L604.05 332.8zM606.52 329.91L608.09 332.73L604.95 332.73zM607.42 329.87L608.99 332.69L605.86 332.69zM608.33 329.83L609.9 332.65L606.76 332.65zM609.23 329.79L610.8 332.61L607.66 332.61zM610.14 329.75L611.7 332.57L608.57 332.57zM611.04 329.71L612.61 332.53L609.47 332.53zM611.94 329.67L613.51 332.49L610.38 332.49zM612.85 329.54L614.42 332.37L611.28 332.37zM613.75 329L615.32 331.82L612.18 331.82zM614.66 328.37L616.22 331.19L613.09 331.19zM615.56 328.29L617.13 331.11L613.99 331.11zM616.46 329.24L618.03 332.06L614.9 332.06zM617.37 330.08L618.94 332.9L615.8 332.9zM618.27 330.25L619.84 333.07L616.7 333.07zM619.18 330.41L620.74 333.23L617.61 333.23zM620.08 330.57L621.65 333.4L618.51 333.4zM620.98 330.74L622.55 333.56L619.42 333.56zM621.89 330.51L623.46 333.33L620.32 333.33zM622.79 329.77L624.36 332.59L621.22 332.59zM623.7 328.76L625.26 331.58L622.13 331.58zM624.6 328.77L626.17 331.59L623.03 331.59zM625.5 332.34L627.07 335.17L623.94 335.17zM626.41 336.72L627.98 339.54L624.84 339.54zM627.31 335.06L628.88 337.88L625.74 337.88zM628.22 332.76L629.78 335.58L626.65 335.58zM629.12 334.77L630.69 337.59L627.55 337.59zM630.02 337.52L631.59 340.35L628.46 340.35zM630.93 339.65L632.5 342.48L629.36 342.48zM631.83 340.35L633.4 343.17L630.26 343.17zM632.74 337.31L634.3 340.13L631.17 340.13zM633.64 334.18L635.21 337.01L632.07 337.01zM634.54 348.3L636.11 351.13L632.98 351.13zM635.45 348.94L637.02 351.76L633.88 351.76zM636.35 349.32L637.92 352.15L634.78 352.15zM637.26 349.3L638.82 352.12L635.69 352.12zM638.16 349.28L639.73 352.1L636.59 352.1zM639.06 349.26L640.63 352.08L637.5 352.08zM639.97 349.23L641.54 352.06L638.4 352.06zM640.87 349.21L642.44 352.03L639.3 352.03zM641.78 349.19L643.34 352.01L640.21 352.01zM642.68 349.17L644.25 351.99L641.11 351.99zM643.58 349.14L645.15 351.96L642.02 351.96zM644.49 349.12L646.06 351.94L642.92 351.94zM645.39 349.1L646.96 351.92L643.82 351.92zM646.3 349.07L647.86 351.9L644.73 351.9zM647.2 349.05L648.77 351.87L645.63 351.87zM648.1 349.03L649.67 351.85L646.54 351.85zM649.01 348.99L650.58 351.81L647.44 351.81zM649.91 348.95L651.48 351.77L648.34 351.77zM650.82 348.91L652.38 351.73L649.25 351.73zM651.72 348.87L653.29 351.7L650.15 351.7zM652.62 348.84L654.19 351.66L651.06 351.66zM653.53 348.8L655.1 351.62L651.96 351.62zM654.43 348.76L656 351.58L652.86 351.58zM655.34 348.72L656.9 351.54L653.77 351.54zM656.24 348.68L657.81 351.5L654.67 351.5zM657.14 348.64L658.71 351.47L655.58 351.47z" fill="#1010e0"/>
<path d="M511.8 440.2L512.5 407.96L513.41 402.46L514.31 398.49L515.22 395.64L516.12 393.22L517.02 391.23L517.93 389.57L518.83 388.53L519.74 387.62L520.64 386.8L521.54 386.1L522.45 385.49L523.35 384.92L524.26 384.4L525.16 383.8L526.06 383.07L526.97 382.39L527.87 381.74L528.78 381.14L529.68 380.56L530.58 380.01L531.49 379.49L532.39 378.97L533.3 378.46L534.2 377.97L535.1 377.5L536.01 377.05L536.91 376.61L537.82 376.19L538.72 375.78L539.62 375.39L540.53 374.95L541.43 374.52L542.34 374.1L543.24 373.7L544.14 373.31L545.05 372.93L545.95 372.56L546.86 372.2L547.76 371.84L548.66 371.5L549.57 371.17L550.47 370.84L551.38 370.52L552.28 370.21L553.18 369.9L554.09 369.6L554.99 369.33L555.9 369.08L556.8 368.83L557.7 368.59L558.61 368.35L559.51 368.12L560.42 367.89L561.32 367.67L562.22 367.45L563.13 367.23L564.03 367.02L564.94 366.81L565.84 366.6L566.74 366.4L567.65 366.2L568.55 366.01L569.46 365.81L570.36 365.62L571.26 365.43L572.17 365.24L573.07 365.06L573.98 364.87L574.88 364.69L575.78 364.51L576.69 364.34L577.59 364.16L578.5 363.99L579.4 363.82L580.3 363.66L581.21 363.49L582.11 363.33L583.02 363.17L583.92 363.01L584.82 362.82L585.73 362.62L586.63 362.43L587.54 362.24L588.44 362.05L589.34 361.86L590.25 361.67L591.15 361.49L592.06 361.31L592.96 361.13L593.86 360.95L594.77 360.78L595.67 360.6L596.58 360.43L597.48 360.26L598.38 360.1L599.29 359.93L600.19 359.77L601.1 359.61L602 359.45L602.9 359.29L603.81 359.13L604.71 358.98L605.62 358.82L606.52 358.67L607.42 358.52L608.33 358.37L609.23 358.22L610.14 358.07L611.04 357.89L611.94 357.71L612.85 357.52L613.75 357.35L614.66 357.17L615.56 356.99L616.46 356.82L617.37 356.64L618.27 356.47L619.18 356.3L620.08 356.13L620.98 355.97L621.89 355.8L622.79 355.64L623.7 355.47L624.6 355.31L625.5 355.15L626.41 354.99L627.31 354.83L628.22 354.68L629.12 354.52L630.02 354.37L630.93 354.21L631.83 354.06L632.74 353.91L633.64 353.76L634.54 353.62L635.45 353.48L636.35 353.34L637.26 353.2L638.16 353.07L639.06 352.94L639.97 352.8L640.87 352.67L641.78 352.54L642.68 352.41L643.58 352.28L644.49 352.15L645.39 352.02L646.3 351.89L647.2 351.77L648.1 351.64L649.01 351.52L649.91 351.39L650.82 351.27L651.72 351.15L652.62 351.03L653.53 350.91L654.43 350.79L655.34 350.67L656.24 350.55L657.14 350.43" fill="none" stroke="#007474" stroke-width="0.5" stroke-opacity="0.5"/>
<path d="M511.8 441.88L513.48 438.86L510.12 438.86zM512.5 409.64L514.18 406.62L510.82 406.62zM513.41 404.14L515.09 401.11L511.73 401.11zM514.31 400.17L515.99 397.15L512.63 397.15zM515.22 397.32L516.9 394.3L513.54 394.3zM516.12 394.9L517.8 391.87L514.44 391.87zM517.02 392.91L518.7 389.89L515.34 389.89zM517.93 391.25L519.61 388.22L516.25 388.22zM518.83 390.21L520.51 387.19L517.15 387.19zM519.74 389.3L521.42 386.27L518.06 386.27zM520.64 388.48L522.32 385.46L518.96 385.46zM521.54 387.78L523.22 384.76L519.86 384.76zM522.45 387.17L524.13 384.14L520.77 384.14zM523.35 386.6L525.03 383.58L521.67 383.58zM524.26 386.08L525.94 383.05L522.58 383.05zM525.16 385.48L526.84 382.45L523.48 382.45zM526.06 384.75L527.74 381.73L524.38 381.73zM526.97 384.07L528.65 381.04L525.29 381.04zM527.87 383.42L529.55 380.4L526.19 380.4zM528.78 382.82L530.46 379.79L527.1 379.79zM529.68 382.24L531.36 379.21L528 379.21zM530.58 381.69L532.26 378.67L528.9 378.67zM531.49 381.17L533.17 378.14L529.81 378.14zM532.39 380.65L534.07 377.63L530.71 377.63zM533.3 380.14L534.98 377.12L531.62 377.12zM534.2 379.65L535.88 376.63L532.52 376.63zM535.1 379.18L536.78 376.16L533.42 376.16zM536.01 378.73L537.69 375.7L534.33 375.7zM536.91 378.29L538.59 375.27L535.23 375.27zM537.82 377.87L539.5 374.85L536.14 374.85zM538.72 377.46L540.4 374.44L537.04 374.44zM539.62 377.07L541.3 374.04L537.94 374.04zM540.53 376.63L542.21 373.6L538.85 373.6zM541.43 376.2L543.11 373.17L539.75 373.17zM542.34 375.78L544.02 372.76L540.66 372.76zM543.24 375.38L544.92 372.36L541.56 372.36zM544.14 374.99L545.82 371.96L542.46 371.96zM545.05 374.61L546.73 371.58L543.37 371.58zM545.95 374.24L547.63 371.21L544.27 371.21zM546.86 373.88L548.54 370.85L545.18 370.85zM547.76 373.52L549.44 370.5L546.08 370.5zM548.66 373.18L550.34 370.16L546.98 370.16zM549.57 372.85L551.25 369.82L547.89 369.82zM550.47 372.52L552.15 369.49L548.79 369.49zM551.38 372.2L553.06 369.17L549.7 369.17zM552.28 371.89L553.96 368.86L550.6 368.86zM553.18 371.58L554.86 368.56L551.5 368.56zM554.09 371.28L555.77 368.26L552.41 368.26zM554.99 371.01L556.67 367.99L553.31 367.99zM555.9 370.76L557.58 367.74L554.22 367.74zM556.8 370.51L558.48 367.49L555.12 367.49zM557.7 370.27L559.38 367.25L556.02 367.25zM558.61 370.03L560.29 367.01L556.93 367.01zM559.51 369.8L561.19 366.78L557.83 366.78zM560.42 369.57L562.1 366.55L558.74 366.55zM561.32 369.35L563 366.32L559.64 366.32zM562.22 369.13L563.9 366.1L560.54 366.1zM563.13 368.91L564.81 365.89L561.45 365.89zM564.03 368.7L565.71 365.67L562.35 365.67zM564.94 368.49L566.62 365.47L563.26 365.47zM565.84 368.28L567.52 365.26L564.16 365.26zM566.74 368.08L568.42 365.06L565.06 365.06zM567.65 367.88L569.33 364.86L565.97 364.86zM568.55 367.69L570.23 364.66L566.87 364.66zM569.46 367.49L571.14 364.47L567.78 364.47zM570.36 367.3L572.04 364.28L568.68 364.28zM571.26 367.11L572.94 364.09L569.58 364.09zM572.17 366.92L573.85 363.9L570.49 363.9zM573.07 366.74L574.75 363.71L571.39 363.71zM573.98 366.55L575.66 363.53L572.3 363.53zM574.88 366.37L576.56 363.35L573.2 363.35zM575.78 366.19L577.46 363.17L574.1 363.17zM576.69 366.02L578.37 362.99L575.01 362.99zM577.59 365.84L579.27 362.82L575.91 362.82zM578.5 365.67L580.18 362.65L576.82 362.65zM579.4 365.5L581.08 362.48L577.72 362.48zM580.3 365.34L581.98 362.31L578.62 362.31zM581.21 365.17L582.89 362.15L579.53 362.15zM582.11 365.01L583.79 361.99L580.43 361.99zM583.02 364.85L584.7 361.83L581.34 361.83zM583.92 364.69L585.6 361.67L582.24 361.67zM584.82 364.5L586.5 361.47L583.14 361.47zM585.73 364.3L587.41 361.28L584.05 361.28zM586.63 364.11L588.31 361.08L584.95 361.08zM587.54 363.92L589.22 360.89L585.86 360.89zM588.44 363.73L590.12 360.7L586.76 360.7zM589.34 363.54L591.02 360.51L587.66 360.51zM590.25 363.35L591.93 360.33L588.57 360.33zM591.15 363.17L592.83 360.15L589.47 360.15zM592.06 362.99L593.74 359.96L590.38 359.96zM592.96 362.81L594.64 359.79L591.28 359.79zM593.86 362.63L595.54 359.61L592.18 359.61zM594.77 362.46L596.45 359.43L593.09 359.43zM595.67 362.28L597.35 359.26L593.99 359.26zM596.58 362.11L598.26 359.09L594.9 359.09zM597.48 361.94L599.16 358.92L595.8 358.92zM598.38 361.78L600.06 358.75L596.7 358.75zM599.29 361.61L600.97 358.59L597.61 358.59zM600.19 361.45L601.87 358.42L598.51 358.42zM601.1 361.29L602.78 358.26L599.42 358.26zM602 361.13L603.68 358.1L600.32 358.1zM602.9 360.97L604.58 357.94L601.22 357.94zM603.81 360.81L605.49 357.79L602.13 357.79zM604.71 360.66L606.39 357.63L603.03 357.63zM605.62 360.5L607.3 357.48L603.94 357.48zM606.52 360.35L608.2 357.33L604.84 357.33zM607.42 360.2L609.1 357.18L605.74 357.18zM608.33 360.05L610.01 357.03L606.65 357.03zM609.23 359.9L610.91 356.88L607.55 356.88zM610.14 359.75L611.82 356.73L608.46 356.73zM611.04 359.57L612.72 356.54L609.36 356.54zM611.94 359.39L613.62 356.36L610.26 356.36zM612.85 359.2L614.53 356.18L611.17 356.18zM613.75 359.03L615.43 356L612.07 356zM614.66 358.85L616.34 355.82L612.98 355.82zM615.56 358.67L617.24 355.65L613.88 355.65zM616.46 358.5L618.14 355.47L614.78 355.47zM617.37 358.32L619.05 355.3L615.69 355.3zM618.27 358.15L619.95 355.13L616.59 355.13zM619.18 357.98L620.86 354.96L617.5 354.96zM620.08 357.81L621.76 354.79L618.4 354.79zM620.98 357.65L622.66 354.62L619.3 354.62zM621.89 357.48L623.57 354.46L620.21 354.46zM622.79 357.32L624.47 354.29L621.11 354.29zM623.7 357.15L625.38 354.13L622.02 354.13zM624.6 356.99L626.28 353.97L622.92 353.97zM625.5 356.83L627.18 353.81L623.82 353.81zM626.41 356.67L628.09 353.65L624.73 353.65zM627.31 356.51L628.99 353.49L625.63 353.49zM628.22 356.36L629.9 353.33L626.54 353.33zM629.12 356.2L630.8 353.18L627.44 353.18zM630.02 356.05L631.7 353.02L628.34 353.02zM630.93 355.89L632.61 352.87L629.25 352.87zM631.83 355.74L633.51 352.72L630.15 352.72zM632.74 355.59L634.42 352.57L631.06 352.57zM633.64 355.44L635.32 352.42L631.96 352.42zM634.54 355.3L636.22 352.27L632.86 352.27zM635.45 355.16L637.13 352.13L633.77 352.13zM636.35 355.02L638.03 352L634.67 352zM637.26 354.88L638.94 351.86L635.58 351.86zM638.16 354.75L639.84 351.73L636.48 351.73zM639.06 354.62L640.74 351.59L637.38 351.59zM639.97 354.48L641.65 351.46L638.29 351.46zM640.87 354.35L642.55 351.33L639.19 351.33zM641.78 354.22L643.46 351.19L640.1 351.19zM642.68 354.09L644.36 351.06L641 351.06zM643.58 353.96L645.26 350.93L641.9 350.93zM644.49 353.83L646.17 350.81L642.81 350.81zM645.39 353.7L647.07 350.68L643.71 350.68zM646.3 353.57L647.98 350.55L644.62 350.55zM647.2 353.45L648.88 350.42L645.52 350.42zM648.1 353.32L649.78 350.3L646.42 350.3zM649.01 353.2L650.69 350.17L647.33 350.17zM649.91 353.07L651.59 350.05L648.23 350.05zM650.82 352.95L652.5 349.93L649.14 349.93zM651.72 352.83L653.4 349.81L650.04 349.81zM652.62 352.71L654.3 349.68L650.94 349.68zM653.53 352.59L655.21 349.56L651.85 349.56zM654.43 352.47L656.11 349.44L652.75 349.44zM655.34 352.35L657.02 349.32L653.66 349.32zM656.24 352.23L657.92 349.21L654.56 349.21zM657.14 352.11L658.82 349.09L655.46 349.09z" fill="#007474"/>
<path d="M421.2 306.3V492.1H675" fill="none" stroke="#111" stroke-width="1"/>
<path d="M421.2 306.3h-4.5M421.2 324.88h-4.5M421.2 343.46h-4.5M421.2 362.04h-4.5M421.2 380.62h-4.5M421.2 399.2h-4.5M421.2 417.78h-4.5M421.2 436.36h-4.5M421.2 454.94h-4.5M421.2 473.52h-4.5M421.2 492.1h-4.5M421.2 492.1v2.4M439.28 492.1v4.4M457.36 492.1v2.4M475.44 492.1v4.4M493.52 492.1v2.4M511.6 492.1v4.4M529.68 492.1v2.4M547.76 492.1v4.4M565.84 492.1v2.4M583.92 492.1v4.4M602 492.1v2.4M620.08 492.1v4.4M638.16 492.1v2.4M656.24 492.1v4.4M674.32 492.1v2.4" fill="none" stroke="#111" stroke-width="0.9"/>
<path d="M421.2 319.29h-2.4M421.2 316.02h-2.4M421.2 313.69h-2.4M421.2 311.89h-2.4M421.2 310.42h-2.4M421.2 309.18h-2.4M421.2 308.1h-2.4M421.2 307.15h-2.4M421.2 337.87h-2.4M421.2 334.6h-2.4M421.2 332.27h-2.4M421.2 330.47h-2.4M421.2 329h-2.4M421.2 327.76h-2.4M421.2 326.68h-2.4M421.2 325.73h-2.4M421.2 356.45h-2.4M421.2 353.18h-2.4M421.2 350.85h-2.4M421.2 349.05h-2.4M421.2 347.58h-2.4M421.2 346.34h-2.4M421.2 345.26h-2.4M421.2 344.31h-2.4M421.2 375.03h-2.4M421.2 371.76h-2.4M421.2 369.43h-2.4M421.2 367.63h-2.4M421.2 366.16h-2.4M421.2 364.92h-2.4M421.2 363.84h-2.4M421.2 362.89h-2.4M421.2 393.61h-2.4M421.2 390.34h-2.4M421.2 388.01h-2.4M421.2 386.21h-2.4M421.2 384.74h-2.4M421.2 383.5h-2.4M421.2 382.42h-2.4M421.2 381.47h-2.4M421.2 412.19h-2.4M421.2 408.92h-2.4M421.2 406.59h-2.4M421.2 404.79h-2.4M421.2 403.32h-2.4M421.2 402.08h-2.4M421.2 401h-2.4M421.2 400.05h-2.4M421.2 430.77h-2.4M421.2 427.5h-2.4M421.2 425.17h-2.4M421.2 423.37h-2.4M421.2 421.9h-2.4M421.2 420.66h-2.4M421.2 419.58h-2.4M421.2 418.63h-2.4M421.2 449.35h-2.4M421.2 446.08h-2.4M421.2 443.75h-2.4M421.2 441.95h-2.4M421.2 440.48h-2.4M421.2 439.24h-2.4M421.2 438.16h-2.4M421.2 437.21h-2.4M421.2 467.93h-2.4M421.2 464.66h-2.4M421.2 462.33h-2.4M421.2 460.53h-2.4M421.2 459.06h-2.4M421.2 457.82h-2.4M421.2 456.74h-2.4M421.2 455.79h-2.4M421.2 486.51h-2.4M421.2 483.24h-2.4M421.2 480.91h-2.4M421.2 479.11h-2.4M421.2 477.64h-2.4M421.2 476.4h-2.4M421.2 475.32h-2.4M421.2 474.37h-2.4" fill="none" stroke="#111" stroke-width="0.75"/>
<text x="414.3" y="309.5" font-size="14.9" text-anchor="end">1</text>
<text x="414.3" y="346.66" font-size="14.9" text-anchor="end">0.01</text>
<text x="414.3" y="383.82" font-size="14.9" text-anchor="end">1E-4</text>
<text x="414.3" y="420.98" font-size="14.9" text-anchor="end">1E-6</text>
<text x="414.3" y="458.14" font-size="14.9" text-anchor="end">1E-8</text>
<text x="414.3" y="495.3" font-size="14.9" text-anchor="end">1E-10</text>
<text x="439.28" y="509.8" font-size="15.0" text-anchor="middle">-4</text>
<text x="475.44" y="509.8" font-size="15.0" text-anchor="middle">-2</text>
<text x="511.6" y="509.8" font-size="15.0" text-anchor="middle">0</text>
<text x="547.76" y="509.8" font-size="15.0" text-anchor="middle">2</text>
<text x="583.92" y="509.8" font-size="15.0" text-anchor="middle">4</text>
<text x="620.08" y="509.8" font-size="15.0" text-anchor="middle">6</text>
<text x="656.24" y="509.8" font-size="15.0" text-anchor="middle">8</text>
<text x="548.5" y="537.6" font-size="20.4" text-anchor="middle">Voltage (V)</text>
<text x="370.8" y="407.3" font-size="20.4" text-anchor="middle" transform="rotate(-90 370.8 407.3)">Current (A)</text>
<text x="354.3" y="315" font-size="20" text-anchor="start">(c)</text>
<rect x="541.2" y="405.7" width="91.9" height="73.7" fill="#fff" stroke="#999" stroke-width="0.9"/>
<path d="M543.3 415.4H576.6" stroke="#000" stroke-width="0.6" stroke-opacity="0.5"/>
<path d="M558.65 414.15h2.5v2.5h-2.5z" fill="#000"/>
<text x="581" y="420.8" font-size="14.6" text-anchor="start">sweep1</text>
<path d="M543.3 434H576.6" stroke="#e80000" stroke-width="0.6" stroke-opacity="0.5"/>
<path d="M558.65 434a1.25 1.25 0 1 0 2.5 0a1.25 1.25 0 1 0 -2.5 0z" fill="#e80000"/>
<text x="581" y="439.4" font-size="14.6" text-anchor="start">sweep2</text>
<path d="M543.3 452.6H576.6" stroke="#1010e0" stroke-width="0.6" stroke-opacity="0.5"/>
<path d="M559.9 451.2L561.3 453.72L558.5 453.72z" fill="#1010e0"/>
<text x="581" y="458" font-size="14.6" text-anchor="start">sweep3</text>
<path d="M543.3 471.2H576.6" stroke="#007474" stroke-width="0.6" stroke-opacity="0.5"/>
<path d="M559.9 472.6L561.3 470.08L558.5 470.08z" fill="#007474"/>
<text x="581" y="476.6" font-size="14.6" text-anchor="start">sweep4</text>
</g>
</svg></body></html>
